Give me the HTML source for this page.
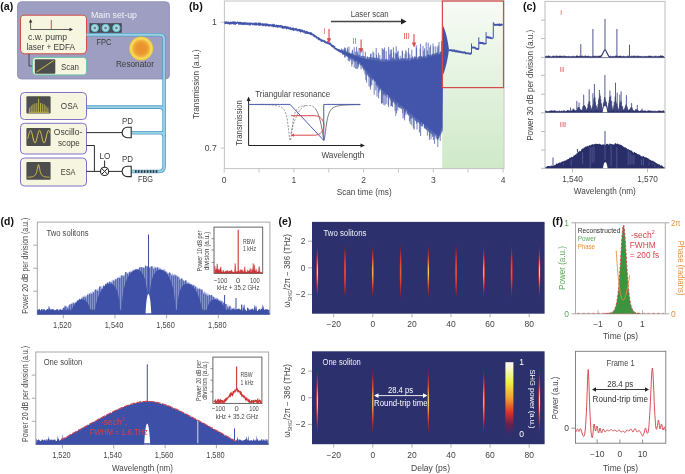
<!DOCTYPE html><html><head><meta charset="utf-8"><style>html,body{margin:0;padding:0;background:#fff;width:685px;height:474px;overflow:hidden}svg{display:block;will-change:transform}</style></head><body><svg width="685" height="474" viewBox="0 0 685 474" font-family="Liberation Sans, sans-serif"><defs><radialGradient id="res"><stop offset="0" stop-color="#e8902c"/><stop offset="0.45" stop-color="#eb9830"/><stop offset="0.68" stop-color="#f0b43c"/><stop offset="0.82" stop-color="#f8dc60"/><stop offset="0.93" stop-color="#f2d048"/><stop offset="1" stop-color="#e8c040"/></radialGradient><linearGradient id="grn" x1="0" y1="0" x2="0" y2="1"><stop offset="0" stop-color="#f7fbf5"/><stop offset="1" stop-color="#cfe9c8"/></linearGradient><radialGradient id="sb" cx="0.5" cy="0.55" r="0.5"><stop offset="0" stop-color="#fbf0a0"/><stop offset="0.15" stop-color="#f0c858"/><stop offset="0.4" stop-color="#e05a34"/><stop offset="0.7" stop-color="#8a2444"/><stop offset="1" stop-color="#2c306c" stop-opacity="0"/></radialGradient><radialGradient id="sr" cx="0.5" cy="0.55" r="0.5"><stop offset="0" stop-color="#e8603e"/><stop offset="0.4" stop-color="#d43c34"/><stop offset="0.75" stop-color="#7a2446"/><stop offset="1" stop-color="#2c306c" stop-opacity="0"/></radialGradient><filter id="bl" x="-3" y="-0.2" width="7" height="1.4"><feGaussianBlur stdDeviation="0.5"/></filter><linearGradient id="cb" x1="0" y1="0" x2="0" y2="1"><stop offset="0" stop-color="#fffff4"/><stop offset="0.08" stop-color="#fafad0"/><stop offset="0.28" stop-color="#f0f040"/><stop offset="0.5" stop-color="#f0a030"/><stop offset="0.7" stop-color="#d83028"/><stop offset="0.86" stop-color="#6a2050"/><stop offset="1" stop-color="#2c306c"/></linearGradient></defs><text x="0.3" y="9.6" font-size="11" fill="#111" font-weight="bold" textLength="13" lengthAdjust="spacingAndGlyphs" >(a)</text>
<rect x="17.5" y="1.7" width="152" height="77.3" fill="#9d9ec1" stroke="#8a8bb3" stroke-width="0.8" rx="4" />
<rect x="20.5" y="15.2" width="66" height="38.6" fill="#f6f6e0" stroke="#d24a48" stroke-width="1" rx="4" />
<path d="M30.6,21 V29.5 H70.5" fill="none" stroke="#333" stroke-width="0.8" />
<path d="M28.9,22.5 L30.6,19 L32.3,22.5 Z" fill="#333" stroke="none" stroke-width="1" />
<path d="M69.5,27.8 L73,29.5 L69.5,31.2 Z" fill="#333" stroke="none" stroke-width="1" />
<line x1="51.3" y1="20" x2="51.3" y2="29.5" stroke="#d03838" stroke-width="0.9" />
<text x="28" y="40.2" font-size="9.5" fill="#3a3a3a" textLength="39" lengthAdjust="spacingAndGlyphs" >c.w. pump</text>
<text x="26.4" y="50" font-size="9.5" fill="#3a3a3a" textLength="48.6" lengthAdjust="spacingAndGlyphs" >laser + EDFA</text>
<path d="M29,53.8 V66 H32.7" fill="none" stroke="#333" stroke-width="0.8" />
<rect x="32.7" y="57.4" width="53.8" height="17.5" fill="#f6f6e0" stroke="#6cc4a6" stroke-width="1" rx="3" />
<rect x="34.8" y="59.2" width="20.5" height="14.5" fill="#4d4d4d" stroke="none" stroke-width="1" rx="1" />
<line x1="36.5" y1="72" x2="53.5" y2="60.6" stroke="#e2cc4a" stroke-width="0.9" />
<text x="61" y="69.8" font-size="9.8" fill="#3a3a3a" textLength="18" lengthAdjust="spacingAndGlyphs" >Scan</text>
<text x="91" y="18" font-size="9.5" fill="#f4f4f8" textLength="46" lengthAdjust="spacingAndGlyphs" >Main set-up</text>
<path d="M86.5,34.8 H159.6 Q164.1,34.8 164.1,39.3 V166.6 Q164.1,171.5 159.2,171.5 H131.5" fill="none" stroke="#5a9ec2" stroke-width="3.6" />
<path d="M86.5,107.1 H160.1 Q164.1,107.1 164.1,111.1" fill="none" stroke="#5a9ec2" stroke-width="3.6" />
<path d="M131.5,132.8 H160.1 Q164.1,132.8 164.1,136.8" fill="none" stroke="#5a9ec2" stroke-width="3.6" />
<path d="M86.5,34.8 H159.6 Q164.1,34.8 164.1,39.3 V166.6 Q164.1,171.5 159.2,171.5 H131.5" fill="none" stroke="#98d2e6" stroke-width="1.9" />
<path d="M86.5,107.1 H160.1 Q164.1,107.1 164.1,111.1" fill="none" stroke="#98d2e6" stroke-width="1.9" />
<path d="M131.5,132.8 H160.1 Q164.1,132.8 164.1,136.8" fill="none" stroke="#98d2e6" stroke-width="1.9" />
<rect x="89.5" y="23.2" width="10.6" height="9.6" fill="#444650" stroke="none" stroke-width="1" rx="0" />
<circle cx="94.8" cy="28" r="3.5" fill="#a8dce4" stroke="#6cc4d0" stroke-width="1.1"/>
<circle cx="94.8" cy="28" r="1.3" fill="#6a8088"/>
<rect x="100.3" y="23.2" width="10.6" height="9.6" fill="#444650" stroke="none" stroke-width="1" rx="0" />
<circle cx="105.6" cy="28" r="3.5" fill="#a8dce4" stroke="#6cc4d0" stroke-width="1.1"/>
<circle cx="105.6" cy="28" r="1.3" fill="#6a8088"/>
<rect x="111.1" y="23.2" width="10.6" height="9.6" fill="#444650" stroke="none" stroke-width="1" rx="0" />
<circle cx="116.4" cy="28" r="3.5" fill="#a8dce4" stroke="#6cc4d0" stroke-width="1.1"/>
<circle cx="116.4" cy="28" r="1.3" fill="#6a8088"/>
<text x="96.5" y="45" font-size="9.5" fill="#3a3a3a" textLength="15" lengthAdjust="spacingAndGlyphs" >FPC</text>
<circle cx="141.2" cy="48.5" r="12" fill="url(#res)"/>
<text x="115.9" y="66.5" font-size="9.5" fill="#3a3a3a" textLength="38" lengthAdjust="spacingAndGlyphs" >Resonator</text>
<rect x="20.5" y="92.5" width="66" height="27" fill="#f6f6e0" stroke="#8070c8" stroke-width="1" rx="4" />
<rect x="20.5" y="123.3" width="66" height="30.7" fill="#f6f6e0" stroke="#8070c8" stroke-width="1" rx="4" />
<rect x="20.5" y="158" width="66" height="28" fill="#f6f6e0" stroke="#8070c8" stroke-width="1" rx="4" />
<rect x="26.4" y="96.3" width="24.2" height="17.3" fill="#4d4d4d" stroke="none" stroke-width="1" rx="1" />
<rect x="26.4" y="128" width="24.2" height="18" fill="#4d4d4d" stroke="none" stroke-width="1" rx="1" />
<rect x="26.4" y="162" width="24.2" height="17.7" fill="#4d4d4d" stroke="none" stroke-width="1" rx="1" />
<path d="M28.5,112.3 H49M29.4,112.3V107.7M31.2,112.3V105.8M33.0,112.3V104.4M34.9,112.3V103.5M36.8,112.3V103.0M38.6,112.3V98.8M40.5,112.3V103.0M42.3,112.3V103.5M44.2,112.3V104.4M46.0,112.3V105.8M47.9,112.3V107.7" fill="none" stroke="#e2cc4a" stroke-width="0.75" />
<path d="M27.8,138.6 L28.1,137.5 L28.3,136.4 L28.6,135.3 L28.8,134.3 L29.1,133.3 L29.3,132.5 L29.6,131.7 L29.8,131.1 L30.1,130.7 L30.3,130.5 L30.6,130.4 L30.8,130.5 L31.1,130.9 L31.3,131.3 L31.6,132.0 L31.8,132.8 L32.0,133.7 L32.3,134.7 L32.5,135.8 L32.8,136.9 L33.0,137.9 L33.3,139.0 L33.5,140.0 L33.8,140.9 L34.0,141.6 L34.3,142.2 L34.5,142.7 L34.8,142.9 L35.0,143.0 L35.3,142.9 L35.5,142.6 L35.8,142.1 L36.0,141.5 L36.3,140.7 L36.5,139.8 L36.8,138.8 L37.0,137.7 L37.3,136.6 L37.5,135.6 L37.8,134.5 L38.0,133.5 L38.3,132.6 L38.5,131.9 L38.8,131.2 L39.0,130.8 L39.3,130.5 L39.5,130.4 L39.8,130.5 L40.0,130.8 L40.3,131.2 L40.5,131.9 L40.8,132.6 L41.0,133.5 L41.3,134.5 L41.5,135.6 L41.8,136.6 L42.0,137.7 L42.3,138.8 L42.5,139.8 L42.8,140.7 L43.0,141.5 L43.3,142.1 L43.5,142.6 L43.8,142.9 L44.0,143.0 L44.3,142.9 L44.5,142.7 L44.8,142.2 L45.0,141.6 L45.3,140.9 L45.5,140.0 L45.8,139.0 L46.0,137.9 L46.3,136.9 L46.5,135.8 L46.8,134.7 L47.0,133.7 L47.3,132.8 L47.5,132.0 L47.8,131.3 L48.0,130.9 L48.3,130.5 L48.5,130.4 L48.8,130.5 L49.0,130.7 L49.3,131.1 L49.5,131.7 L49.8,132.5 L50.0,133.3" fill="none" stroke="#e2cc4a" stroke-width="1.0" />
<path d="M27.5,177.2 L27.8,177.2 L28.0,177.2 L28.2,177.2 L28.5,177.2 L28.8,177.2 L29.0,177.1 L29.2,177.1 L29.5,177.1 L29.8,177.1 L30.0,177.1 L30.2,177.0 L30.5,177.0 L30.8,177.0 L31.0,176.9 L31.2,176.9 L31.5,176.9 L31.8,176.8 L32.0,176.8 L32.2,176.7 L32.5,176.6 L32.8,176.6 L33.0,176.5 L33.2,176.4 L33.5,176.3 L33.8,176.2 L34.0,176.0 L34.2,175.9 L34.5,175.7 L34.8,175.5 L35.0,175.3 L35.2,175.0 L35.5,174.6 L35.8,174.2 L36.0,173.7 L36.2,173.1 L36.5,172.4 L36.8,171.6 L37.0,170.6 L37.2,169.4 L37.5,168.2 L37.8,166.8 L38.0,165.7 L38.2,164.8 L38.5,164.5 L38.8,164.8 L39.0,165.7 L39.2,166.8 L39.5,168.2 L39.8,169.4 L40.0,170.6 L40.2,171.6 L40.5,172.4 L40.8,173.1 L41.0,173.7 L41.2,174.2 L41.5,174.6 L41.8,175.0 L42.0,175.3 L42.2,175.5 L42.5,175.7 L42.8,175.9 L43.0,176.0 L43.2,176.2 L43.5,176.3 L43.8,176.4 L44.0,176.5 L44.2,176.6 L44.5,176.6 L44.8,176.7 L45.0,176.8 L45.2,176.8 L45.5,176.9 L45.8,176.9 L46.0,176.9 L46.2,177.0 L46.5,177.0 L46.8,177.0 L47.0,177.1 L47.2,177.1 L47.5,177.1 L47.8,177.1 L48.0,177.1 L48.2,177.2 L48.5,177.2 L48.8,177.2 L49.0,177.2 L49.2,177.2 L49.5,177.2" fill="none" stroke="#e2cc4a" stroke-width="0.9" />
<text x="60.8" y="109.4" font-size="9.8" fill="#3a3a3a" textLength="17.2" lengthAdjust="spacingAndGlyphs" >OSA</text>
<text x="53.8" y="135.4" font-size="9.8" fill="#3a3a3a" textLength="28.5" lengthAdjust="spacingAndGlyphs" >Oscillo-</text>
<text x="58" y="146" font-size="9.8" fill="#3a3a3a" textLength="21.7" lengthAdjust="spacingAndGlyphs" >scope</text>
<text x="60.8" y="175.4" font-size="9.8" fill="#3a3a3a" textLength="14.7" lengthAdjust="spacingAndGlyphs" >ESA</text>
<path d="M86.5,132.6 H123 M86.5,145.5 H94.4 V171.4 M86.5,171.4 H100.5 M108.7,171.4 H123 M104.6,160.5 V167.3" fill="none" stroke="#2a2a2a" stroke-width="1" />
<circle cx="104.6" cy="171.4" r="4.1" fill="#fff" stroke="#2a2a2a" stroke-width="1.1"/>
<path d="M101.7,168.5 L107.5,174.3 M107.5,168.5 L101.7,174.3" fill="none" stroke="#2a2a2a" stroke-width="1" />
<path d="M131.2,127.3 H127.3 A5.2,5.2 0 0 0 127.3,137.7 H131.2 Z" fill="#fff" stroke="#2a2a2a" stroke-width="1.1" />
<path d="M131.2,166.2 H127.3 A5.2,5.2 0 0 0 127.3,176.6 H131.2 Z" fill="#fff" stroke="#2a2a2a" stroke-width="1.1" />
<text x="122" y="124.2" font-size="9.5" fill="#3a3a3a" textLength="11" lengthAdjust="spacingAndGlyphs" >PD</text>
<text x="122" y="161.7" font-size="9.5" fill="#3a3a3a" textLength="11" lengthAdjust="spacingAndGlyphs" >PD</text>
<text x="99.5" y="158.6" font-size="9.5" fill="#3a3a3a" textLength="11" lengthAdjust="spacingAndGlyphs" >LO</text>
<rect x="135" y="170.2" width="1.6" height="2.6" fill="#333" stroke="none" stroke-width="1" rx="0" />
<rect x="137.9" y="170.2" width="1.6" height="2.6" fill="#333" stroke="none" stroke-width="1" rx="0" />
<rect x="140.9" y="170.2" width="1.6" height="2.6" fill="#333" stroke="none" stroke-width="1" rx="0" />
<rect x="143.8" y="170.2" width="1.6" height="2.6" fill="#333" stroke="none" stroke-width="1" rx="0" />
<rect x="146.8" y="170.2" width="1.6" height="2.6" fill="#333" stroke="none" stroke-width="1" rx="0" />
<rect x="149.8" y="170.2" width="1.6" height="2.6" fill="#333" stroke="none" stroke-width="1" rx="0" />
<rect x="152.7" y="170.2" width="1.6" height="2.6" fill="#333" stroke="none" stroke-width="1" rx="0" />
<rect x="155.7" y="170.2" width="1.6" height="2.6" fill="#333" stroke="none" stroke-width="1" rx="0" />
<text x="138" y="181.8" font-size="9.5" fill="#3a3a3a" textLength="15" lengthAdjust="spacingAndGlyphs" >FBG</text>
<text x="189" y="9.7" font-size="11" fill="#111" font-weight="bold" textLength="13.8" lengthAdjust="spacingAndGlyphs" >(b)</text>
<rect x="442.2" y="1" width="61.6" height="167.6" fill="url(#grn)" stroke="none" stroke-width="1" rx="0" />
<rect x="224.4" y="1" width="279.6" height="167.6" fill="none" stroke="#c4c4c4" stroke-width="1" rx="0" />
<line x1="220.6" y1="22.2" x2="224.4" y2="22.2" stroke="#c4c4c4" stroke-width="1" />
<line x1="220.6" y1="148.1" x2="224.4" y2="148.1" stroke="#c4c4c4" stroke-width="1" />
<text x="216.8" y="25.2" font-size="8.5" fill="#444" text-anchor="end" >1</text>
<text x="216.8" y="151.1" font-size="8.5" fill="#444" text-anchor="end" textLength="12" lengthAdjust="spacingAndGlyphs" >0.7</text>
<line x1="224.2" y1="168.6" x2="224.2" y2="172.6" stroke="#c4c4c4" stroke-width="1" />
<line x1="259.1" y1="168.6" x2="259.1" y2="172.6" stroke="#c4c4c4" stroke-width="1" />
<line x1="293.9" y1="168.6" x2="293.9" y2="172.6" stroke="#c4c4c4" stroke-width="1" />
<line x1="328.8" y1="168.6" x2="328.8" y2="172.6" stroke="#c4c4c4" stroke-width="1" />
<line x1="363.6" y1="168.6" x2="363.6" y2="172.6" stroke="#c4c4c4" stroke-width="1" />
<line x1="398.4" y1="168.6" x2="398.4" y2="172.6" stroke="#c4c4c4" stroke-width="1" />
<line x1="433.3" y1="168.6" x2="433.3" y2="172.6" stroke="#c4c4c4" stroke-width="1" />
<line x1="468.1" y1="168.6" x2="468.1" y2="172.6" stroke="#c4c4c4" stroke-width="1" />
<line x1="503" y1="168.6" x2="503" y2="172.6" stroke="#c4c4c4" stroke-width="1" />
<text x="224.2" y="182.5" font-size="8.5" fill="#444" text-anchor="middle" >0</text>
<text x="293.9" y="182.5" font-size="8.5" fill="#444" text-anchor="middle" >1</text>
<text x="363.6" y="182.5" font-size="8.5" fill="#444" text-anchor="middle" >2</text>
<text x="433.3" y="182.5" font-size="8.5" fill="#444" text-anchor="middle" >3</text>
<text x="503" y="182.5" font-size="8.5" fill="#444" text-anchor="middle" >4</text>
<text x="364.2" y="195" font-size="8.5" fill="#444" text-anchor="middle" textLength="55" lengthAdjust="spacingAndGlyphs" >Scan time (ms)</text>
<text x="199.2" y="84.3" font-size="8.5" fill="#444" text-anchor="middle" textLength="69.5" lengthAdjust="spacingAndGlyphs" transform="rotate(-90 199.2 84.3)" >Transmission (a.u.)</text>
<path d="M224.4,21.5 L224.9,21.6 L225.4,21.4 L225.9,21.2 L226.4,21.4 L226.9,21.2 L227.4,21.6 L227.9,22.2 L228.4,21.5 L228.9,21.4 L229.4,21.9 L229.9,21.9 L230.4,21.8 L230.9,21.4 L231.4,21.8 L231.9,22.1 L232.4,21.3 L232.9,21.7 L233.4,21.1 L233.9,21.4 L234.4,21.2 L234.9,21.8 L235.4,21.4 L235.9,22.1 L236.4,22.0 L236.9,21.9 L237.4,21.0 L237.9,21.8 L238.4,22.0 L238.9,22.1 L239.4,21.5 L239.9,21.9 L240.4,21.7 L240.9,21.8 L241.4,22.6 L241.9,21.9 L242.4,22.2 L242.9,22.6 L243.4,22.0 L243.9,22.2 L244.4,22.3 L244.9,22.3 L245.4,21.8 L245.9,22.4 L246.4,22.9 L246.9,21.8 L247.4,22.7 L247.9,22.5 L248.4,22.2 L248.9,23.3 L249.4,22.8 L249.9,22.0 L250.4,22.6 L250.9,22.8 L251.4,22.5 L251.9,22.9 L252.4,22.6 L252.9,22.9 L253.4,23.2 L253.9,22.4 L254.4,22.8 L254.9,22.5 L255.4,22.8 L255.9,22.3 L256.4,22.5 L256.9,22.7 L257.4,23.2 L257.9,23.3 L258.4,22.3 L258.9,22.5 L259.4,23.1 L259.9,22.1 L260.4,22.8 L260.9,23.0 L261.4,23.6 L261.9,23.4 L262.4,23.0 L262.9,23.1 L263.4,23.2 L263.9,23.9 L264.4,23.2 L264.9,23.3 L265.4,23.6 L265.9,23.5 L266.4,23.5 L266.9,23.2 L267.4,23.7 L267.9,23.6 L268.4,24.3 L268.9,24.1 L269.4,23.9 L269.9,24.3 L270.4,23.9 L270.9,24.5 L271.4,24.2 L271.9,24.4 L272.4,23.7 L272.9,24.5 L273.4,23.7 L273.9,23.6 L274.4,24.4 L274.9,24.2 L275.4,24.7 L275.9,25.5 L276.4,24.4 L276.9,24.5 L277.4,24.9 L277.9,25.1 L278.4,24.9 L278.9,24.9 L279.4,25.3 L279.9,25.3 L280.4,24.8 L280.9,25.3 L281.4,25.4 L281.9,25.1 L282.4,25.7 L282.9,25.4 L283.4,26.2 L283.9,26.0 L284.4,26.0 L284.9,25.9 L285.4,26.2 L285.9,25.5 L286.4,26.0 L286.9,26.7 L287.4,25.8 L287.9,27.1 L288.4,26.1 L288.9,27.2 L289.4,26.7 L289.9,27.4 L290.4,27.3 L290.9,26.7 L291.4,27.9 L291.9,28.1 L292.4,27.6 L292.9,27.6 L293.4,27.8 L293.9,27.6 L294.4,28.5 L294.9,27.9 L295.4,28.2 L295.9,28.0 L296.4,28.2 L296.9,28.1 L297.4,29.2 L297.9,28.7 L298.4,29.3 L298.9,29.0 L299.4,28.8 L299.9,29.0 L300.4,29.1 L300.9,29.5 L301.4,29.5 L301.9,29.7 L302.4,29.4 L302.9,29.8 L303.4,30.9 L303.9,30.1 L304.4,30.1 L304.9,30.8 L305.4,31.4 L305.9,30.4 L306.4,31.0 L306.9,31.0 L307.4,30.7 L307.9,31.9 L308.4,31.7 L308.9,31.9 L309.4,31.7 L309.9,32.4 L310.4,32.1 L310.9,32.4 L311.4,32.2 L311.9,32.4 L312.4,33.8 L312.9,33.3 L313.4,34.0 L313.9,34.2 L314.4,34.4 L314.9,34.7 L315.4,35.4 L315.9,35.4 L316.4,35.8 L316.9,36.2 L317.4,37.0 L317.9,37.1 L318.4,37.3 L318.9,37.3 L319.4,37.3 L319.9,38.5 L320.4,38.8 L320.9,38.5 L321.4,39.0 L321.9,39.4 L322.4,39.6 L322.9,39.9 L323.4,39.5 L323.9,40.5 L324.4,39.7 L324.9,40.7 L325.4,40.8 L325.9,41.2 L326.4,41.8 L326.9,41.9 L327.4,41.0 L327.9,41.0 L328.4,42.3 L328.9,41.7 L329.4,42.5 L329.9,43.2 L330.4,42.6 L330.9,42.8 L331.4,44.1 L331.9,44.4 L332.4,44.7 L332.9,45.1 L333.4,45.2 L333.9,45.3 L334.4,46.2 L334.9,46.2 L335.4,46.0 L335.4,49.0 L334.9,49.8 L334.4,48.6 L333.9,48.8 L333.4,47.7 L332.9,47.5 L332.4,47.4 L331.9,46.4 L331.4,47.0 L330.9,46.2 L330.4,45.3 L329.9,45.1 L329.4,45.0 L328.9,44.4 L328.4,44.3 L327.9,44.3 L327.4,43.9 L326.9,43.7 L326.4,43.2 L325.9,43.6 L325.4,43.6 L324.9,42.5 L324.4,43.1 L323.9,42.4 L323.4,41.6 L322.9,42.2 L322.4,41.6 L321.9,42.3 L321.4,41.4 L320.9,42.2 L320.4,40.5 L319.9,40.6 L319.4,40.3 L318.9,40.6 L318.4,40.0 L317.9,40.0 L317.4,38.3 L316.9,39.0 L316.4,38.8 L315.9,37.7 L315.4,37.3 L314.9,37.5 L314.4,37.5 L313.9,36.7 L313.4,36.6 L312.9,36.2 L312.4,35.5 L311.9,34.8 L311.4,35.6 L310.9,35.2 L310.4,34.9 L309.9,35.1 L309.4,34.1 L308.9,34.0 L308.4,34.2 L307.9,34.0 L307.4,34.0 L306.9,34.1 L306.4,33.5 L305.9,34.0 L305.4,33.9 L304.9,33.7 L304.4,32.7 L303.9,33.0 L303.4,32.4 L302.9,32.6 L302.4,32.5 L301.9,31.9 L301.4,31.9 L300.9,32.2 L300.4,32.8 L299.9,32.0 L299.4,31.4 L298.9,31.4 L298.4,30.8 L297.9,31.3 L297.4,31.5 L296.9,31.5 L296.4,30.5 L295.9,30.2 L295.4,31.0 L294.9,30.1 L294.4,30.7 L293.9,30.8 L293.4,31.2 L292.9,30.5 L292.4,30.2 L291.9,30.2 L291.4,30.0 L290.9,29.8 L290.4,30.0 L289.9,29.8 L289.4,29.5 L288.9,29.6 L288.4,29.2 L287.9,29.0 L287.4,28.8 L286.9,29.5 L286.4,29.6 L285.9,28.9 L285.4,28.3 L284.9,28.5 L284.4,28.5 L283.9,29.3 L283.4,28.6 L282.9,28.4 L282.4,28.8 L281.9,28.5 L281.4,27.6 L280.9,28.4 L280.4,27.3 L279.9,27.2 L279.4,27.8 L278.9,27.2 L278.4,27.4 L277.9,27.4 L277.4,28.2 L276.9,27.5 L276.4,26.9 L275.9,27.2 L275.4,27.3 L274.9,26.9 L274.4,27.0 L273.9,27.6 L273.4,27.2 L272.9,26.6 L272.4,27.2 L271.9,26.5 L271.4,26.7 L270.9,26.1 L270.4,26.7 L269.9,26.5 L269.4,26.4 L268.9,26.3 L268.4,26.8 L267.9,26.3 L267.4,25.9 L266.9,26.1 L266.4,26.2 L265.9,26.4 L265.4,26.7 L264.9,25.8 L264.4,25.8 L263.9,25.9 L263.4,26.1 L262.9,26.4 L262.4,25.8 L261.9,25.6 L261.4,25.6 L260.9,25.7 L260.4,25.6 L259.9,25.8 L259.4,25.8 L258.9,25.8 L258.4,26.1 L257.9,24.7 L257.4,25.2 L256.9,25.2 L256.4,26.0 L255.9,25.3 L255.4,25.5 L254.9,25.8 L254.4,25.2 L253.9,25.2 L253.4,24.8 L252.9,25.3 L252.4,25.2 L251.9,25.3 L251.4,24.1 L250.9,25.3 L250.4,25.4 L249.9,24.9 L249.4,25.7 L248.9,25.8 L248.4,24.5 L247.9,25.0 L247.4,24.9 L246.9,24.5 L246.4,25.4 L245.9,24.7 L245.4,25.1 L244.9,24.5 L244.4,25.0 L243.9,25.1 L243.4,25.2 L242.9,24.8 L242.4,24.8 L241.9,24.8 L241.4,24.8 L240.9,25.2 L240.4,24.4 L239.9,24.2 L239.4,24.7 L238.9,25.2 L238.4,24.4 L237.9,23.3 L237.4,23.8 L236.9,24.3 L236.4,23.7 L235.9,24.5 L235.4,25.0 L234.9,24.4 L234.4,24.5 L233.9,24.4 L233.4,24.8 L232.9,24.3 L232.4,23.8 L231.9,24.4 L231.4,24.3 L230.9,24.7 L230.4,23.8 L229.9,25.1 L229.4,24.4 L228.9,24.4 L228.4,23.9 L227.9,24.3 L227.4,23.9 L226.9,23.8 L226.4,23.9 L225.9,23.8 L225.4,24.3 L224.9,24.1 L224.4,24.3Z" fill="#4355aa" stroke="none" stroke-width="1" />
<path d="M335.0,48.0V49.0M335.4,48.1V49.2M335.8,48.1V49.4M336.2,48.2V50.0M336.6,48.5V50.0M337.0,48.7V51.0M337.4,48.8V50.4M337.8,48.9V50.9M338.2,49.1V50.7M338.6,49.1V51.7M339.0,49.2V51.7M339.4,49.6V52.2M339.8,49.6V52.2M340.2,50.8V52.3M340.6,50.0V52.7M341.0,50.5V52.6M341.4,48.5V52.1M341.8,50.1V53.1M342.2,49.2V53.7M342.6,50.4V54.6M343.0,50.6V54.4M343.4,51.9V54.6M343.8,49.4V54.6M344.2,49.2V54.4M344.6,47.4V57.0M345.0,51.1V58.0M345.4,48.0V53.7M345.8,50.1V56.2M346.2,51.5V55.5M346.6,51.7V56.0M347.0,52.3V56.8M347.4,47.4V56.7M347.8,49.4V56.9M348.2,52.8V60.7M348.6,52.4V58.0M349.0,46.6V60.9M349.4,52.7V58.7M349.8,53.1V61.5M350.2,53.8V59.4M350.6,55.6V57.9M351.0,52.9V59.5M351.4,54.0V59.3M351.8,53.2V66.5M352.2,51.2V64.1M352.6,49.7V58.8M353.0,53.7V60.4M353.4,54.2V56.7M353.8,55.3V61.5M354.2,47.2V67.7M354.6,55.6V61.4M355.0,54.7V61.5M355.4,51.7V62.5M355.8,55.7V68.5M356.2,55.1V68.7M356.6,46.7V60.9M357.0,56.1V59.2M357.4,51.5V69.1M357.8,53.5V64.4M358.2,56.5V64.1M358.6,55.2V67.4M359.0,48.1V65.0M359.4,54.9V63.6M359.8,59.1V63.4M360.2,48.0V60.9M360.6,56.4V65.5M361.0,58.1V69.4M361.4,56.4V65.2M361.8,55.8V65.9M362.2,55.9V68.2M362.6,58.1V66.0M363.0,49.8V67.9M363.4,55.9V69.2M363.8,58.5V70.8M364.2,56.0V65.0M364.6,57.9V70.1M365.0,56.4V74.5M365.4,51.9V72.5M365.8,59.2V80.2M366.2,60.3V71.4M366.6,58.7V82.6M367.0,57.1V74.2M367.4,56.4V74.3M367.8,56.8V75.7M368.2,57.2V74.9M368.6,59.2V76.6M369.0,65.1V86.3M369.4,57.3V77.3M369.8,57.3V77.7M370.2,57.3V87.4M370.6,53.8V89.7M371.0,53.7V85.5M371.4,57.4V78.3M371.8,57.7V85.0M372.2,59.8V80.1M372.6,57.7V79.5M373.0,51.3V80.7M373.4,57.4V76.0M373.8,52.8V77.1M374.2,57.8V94.7M374.6,57.9V81.3M375.0,57.9V80.7M375.4,59.8V81.1M375.8,57.8V90.3M376.2,47.9V85.2M376.6,54.8V85.6M377.0,59.6V96.6M377.4,58.0V87.6M377.8,57.7V82.9M378.2,58.9V86.2M378.6,52.9V98.4M379.0,61.0V92.6M379.4,58.7V90.4M379.8,55.3V89.2M380.2,59.2V89.6M380.6,60.3V86.3M381.0,60.7V90.4M381.4,58.7V103.2M381.8,62.1V103.9M382.2,48.1V89.3M382.6,59.4V103.1M383.0,49.0V94.0M383.4,60.4V95.2M383.8,49.8V104.8M384.2,60.4V93.4M384.6,47.5V95.1M385.0,60.5V105.5M385.4,59.6V92.4M385.8,59.1V96.0M386.2,51.0V103.9M386.6,58.8V94.8M387.0,63.3V97.5M387.4,60.2V92.7M387.8,59.6V95.0M388.2,59.3V105.1M388.6,47.1V107.2M389.0,60.9V94.7M389.4,60.5V98.0M389.8,54.5V97.7M390.2,49.7V99.7M390.6,58.6V100.1M391.0,52.8V106.3M391.4,49.4V105.8M391.8,59.6V105.8M392.2,59.0V101.9M392.6,57.4V107.0M393.0,58.7V102.3M393.4,47.3V102.2M393.8,52.0V101.9M394.2,58.7V98.4M394.6,58.6V103.4M395.0,59.9V110.8M395.4,53.4V104.6M395.8,60.3V115.8M396.2,46.2V103.8M396.6,53.9V113.0M397.0,54.1V105.6M397.4,52.0V99.7M397.8,58.5V110.4M398.2,50.7V107.2M398.6,57.0V107.0M399.0,59.0V106.5M399.4,59.1V107.4M399.8,59.7V108.2M400.2,55.8V107.3M400.6,59.5V108.3M401.0,58.4V105.9M401.4,58.4V108.7M401.8,58.2V109.1M402.2,50.5V100.3M402.6,51.3V113.0M403.0,59.5V118.4M403.4,58.5V107.9M403.8,58.2V109.3M404.2,59.1V117.5M404.6,58.4V120.4M405.0,54.0V111.7M405.4,58.8V112.7M405.8,50.1V115.0M406.2,51.7V110.9M406.6,60.3V104.8M407.0,58.6V112.4M407.4,58.4V114.1M407.8,58.8V113.5M408.2,52.6V115.1M408.6,48.0V115.5M409.0,58.1V113.9M409.4,62.4V121.5M409.8,54.2V115.7M410.2,57.6V124.0M410.6,61.5V119.2M411.0,58.5V112.6M411.4,57.8V117.8M411.8,49.6V125.5M412.2,58.4V118.3M412.6,56.3V115.8M413.0,58.0V117.7M413.4,59.1V128.5M413.8,58.2V118.5M414.2,56.9V129.7M414.6,57.2V118.2M415.0,55.9V120.0M415.4,57.5V121.0M415.8,57.1V119.7M416.2,45.2V121.5M416.6,47.6V123.7M417.0,56.9V129.5M417.4,60.4V122.0M417.8,60.6V122.3M418.2,57.4V118.8M418.6,56.7V122.6M419.0,56.8V122.8M419.4,56.3V132.4M419.8,56.4V124.1M420.2,48.6V124.3M420.6,43.9V136.0M421.0,57.4V125.6M421.4,56.0V121.6M421.8,56.5V126.4M422.2,58.1V126.3M422.6,57.0V125.9M423.0,45.9V121.1M423.4,56.1V123.9M423.8,50.8V119.3M424.2,56.8V127.6M424.6,48.3V128.4M425.0,56.1V128.2M425.4,58.3V128.8M425.8,55.8V127.7M426.2,42.3V129.6M426.6,58.2V130.2M427.0,55.4V130.0M427.4,50.5V135.5M427.8,54.9V125.7M428.2,42.7V129.3M428.6,54.3V131.7M429.0,55.1V131.8M429.4,55.3V139.9M429.8,47.3V136.5M430.2,55.2V133.1M430.6,45.2V132.6M431.0,55.2V139.3M431.4,58.4V134.1M431.8,54.5V128.2M432.2,54.0V134.2M432.6,54.2V136.9M433.0,43.5V135.3M433.4,53.7V140.0M433.8,46.4V130.8M434.2,53.7V136.4M434.6,54.5V143.8M435.0,53.9V130.9M435.4,53.3V134.3M435.8,46.3V136.3M436.2,52.8V138.4M436.6,53.4V134.9M437.0,52.7V138.9M437.4,52.1V140.1M437.8,47.2V147.0M438.2,45.4V139.3M438.6,54.9V137.8M439.0,42.0V137.9M439.4,54.0V135.9M439.8,52.9V136.2M440.2,51.6V141.0M440.6,51.8V134.6M441.0,51.8V133.8M441.4,41.1V126.5M441.8,51.9V132.3M442.2,45.6V131.2" fill="none" stroke="#4355aa" stroke-width="0.75" />
<path d="M335.0,48.0 L335.4,48.2 L335.8,48.3 L336.2,48.5 L336.6,48.6 L337.0,48.8 L337.4,49.0 L337.8,49.1 L338.2,49.3 L338.6,49.4 L339.0,49.6 L339.4,49.8 L339.8,49.9 L340.2,50.1 L340.6,50.2 L341.0,50.4 L341.4,50.6 L341.8,50.7 L342.2,50.9 L342.6,51.0 L343.0,51.2 L343.4,51.4 L343.8,51.5 L344.2,51.7 L344.6,51.8 L345.0,52.0 L345.4,52.2 L345.8,52.3 L346.2,52.5 L346.6,52.6 L347.0,52.8 L347.4,53.0 L347.8,53.1 L348.2,53.3 L348.6,53.4 L349.0,53.6 L349.4,53.8 L349.8,53.9 L350.2,54.1 L350.6,54.2 L351.0,54.3 L351.4,54.5 L351.8,54.6 L352.2,54.8 L352.6,54.9 L353.0,55.0 L353.4,55.2 L353.8,55.3 L354.2,55.5 L354.6,55.6 L355.0,55.7 L355.4,55.9 L355.8,56.0 L356.2,56.2 L356.6,56.3 L357.0,56.4 L357.4,56.6 L357.8,56.7 L358.2,56.9 L358.6,57.0 L359.0,57.1 L359.4,57.3 L359.8,57.4 L360.2,57.6 L360.6,57.7 L361.0,57.8 L361.4,57.9 L361.8,58.0 L362.2,58.1 L362.6,58.2 L363.0,58.3 L363.4,58.4 L363.8,58.5 L364.2,58.7 L364.6,58.8 L365.0,58.9 L365.4,58.9 L365.8,59.0 L366.2,59.1 L366.6,59.1 L367.0,59.2 L367.4,59.3 L367.8,59.4 L368.2,59.4 L368.6,59.5 L369.0,59.6 L369.4,59.6 L369.8,59.7 L370.2,59.8 L370.6,59.8 L371.0,59.9 L371.4,60.0 L371.8,60.1 L372.2,60.1 L372.6,60.2 L373.0,60.3 L373.4,60.3 L373.8,60.4 L374.2,60.5 L374.6,60.5 L375.0,60.6 L375.4,60.7 L375.8,60.7 L376.2,60.8 L376.6,60.9 L377.0,61.0 L377.4,61.0 L377.8,61.1 L378.2,61.2 L378.6,61.2 L379.0,61.3 L379.4,61.4 L379.8,61.4 L380.2,61.5 L380.6,61.6 L381.0,61.7 L381.4,61.7 L381.8,61.8 L382.2,61.9 L382.6,61.9 L383.0,62.0 L383.4,62.0 L383.8,62.0 L384.2,61.9 L384.6,61.9 L385.0,61.9 L385.4,61.9 L385.8,61.8 L386.2,61.8 L386.6,61.8 L387.0,61.8 L387.4,61.8 L387.8,61.7 L388.2,61.7 L388.6,61.7 L389.0,61.7 L389.4,61.6 L389.8,61.6 L390.2,61.6 L390.6,61.6 L391.0,61.6 L391.4,61.5 L391.8,61.5 L392.2,61.5 L392.6,61.5 L393.0,61.4 L393.4,61.4 L393.8,61.4 L394.2,61.4 L394.6,61.4 L395.0,61.3 L395.4,61.3 L395.8,61.3 L396.2,61.3 L396.6,61.2 L397.0,61.2 L397.4,61.2 L397.8,61.2 L398.2,61.2 L398.6,61.1 L399.0,61.1 L399.4,61.1 L399.8,61.1 L400.2,61.0 L400.6,61.0 L401.0,61.0 L401.4,61.0 L401.8,61.0 L402.2,60.9 L402.6,60.9 L403.0,60.9 L403.4,60.9 L403.8,60.8 L404.2,60.8 L404.6,60.8 L405.0,60.8 L405.4,60.8 L405.8,60.7 L406.2,60.7 L406.6,60.7 L407.0,60.7 L407.4,60.6 L407.8,60.6 L408.2,60.6 L408.6,60.6 L409.0,60.6 L409.4,60.5 L409.8,60.5 L410.2,60.5 L410.6,60.4 L411.0,60.3 L411.4,60.3 L411.8,60.2 L412.2,60.1 L412.6,60.1 L413.0,60.0 L413.4,59.9 L413.8,59.9 L414.2,59.8 L414.6,59.7 L415.0,59.7 L415.4,59.6 L415.8,59.5 L416.2,59.5 L416.6,59.4 L417.0,59.3 L417.4,59.3 L417.8,59.2 L418.2,59.1 L418.6,59.1 L419.0,59.0 L419.4,58.9 L419.8,58.9 L420.2,58.8 L420.6,58.7 L421.0,58.7 L421.4,58.6 L421.8,58.5 L422.2,58.5 L422.6,58.4 L423.0,58.3 L423.4,58.3 L423.8,58.2 L424.2,58.1 L424.6,58.1 L425.0,58.0 L425.4,57.9 L425.8,57.8 L426.2,57.7 L426.6,57.6 L427.0,57.5 L427.4,57.4 L427.8,57.3 L428.2,57.2 L428.6,57.1 L429.0,57.0 L429.4,56.9 L429.8,56.8 L430.2,56.7 L430.6,56.6 L431.0,56.5 L431.4,56.4 L431.8,56.3 L432.2,56.2 L432.6,56.1 L433.0,56.0 L433.4,55.9 L433.8,55.8 L434.2,55.7 L434.6,55.6 L435.0,55.5 L435.4,55.4 L435.8,55.3 L436.2,55.2 L436.6,55.1 L437.0,55.0 L437.4,54.9 L437.8,54.8 L438.2,54.7 L438.6,54.6 L439.0,54.5 L439.4,54.4 L439.8,54.4 L440.2,54.3 L440.6,54.2 L441.0,54.2 L441.4,54.1 L441.8,54.0 L442.2,54.0 L442.2,128.0 L441.8,128.4 L441.4,129.2 L441.0,130.0 L440.6,130.8 L440.2,131.6 L439.8,132.4 L439.4,133.2 L439.0,134.0 L438.6,134.8 L438.2,135.6 L437.8,135.8 L437.4,135.5 L437.0,135.2 L436.6,134.8 L436.2,134.5 L435.8,134.2 L435.4,133.8 L435.0,133.5 L434.6,133.2 L434.2,132.8 L433.8,132.5 L433.4,132.2 L433.0,131.8 L432.6,131.5 L432.2,131.2 L431.8,130.8 L431.4,130.5 L431.0,130.2 L430.6,129.8 L430.2,129.5 L429.8,129.2 L429.4,128.8 L429.0,128.5 L428.6,128.2 L428.2,127.8 L427.8,127.5 L427.4,127.2 L427.0,126.8 L426.6,126.5 L426.2,126.2 L425.8,125.8 L425.4,125.5 L425.0,125.2 L424.6,124.8 L424.2,124.5 L423.8,124.2 L423.4,123.8 L423.0,123.5 L422.6,123.2 L422.2,122.8 L421.8,122.5 L421.4,122.2 L421.0,121.8 L420.6,121.5 L420.2,121.2 L419.8,120.8 L419.4,120.5 L419.0,120.2 L418.6,119.8 L418.2,119.5 L417.8,119.2 L417.4,118.8 L417.0,118.5 L416.6,118.2 L416.2,117.8 L415.8,117.5 L415.4,117.2 L415.0,116.8 L414.6,116.5 L414.2,116.2 L413.8,115.8 L413.4,115.5 L413.0,115.2 L412.6,114.8 L412.2,114.5 L411.8,114.2 L411.4,113.8 L411.0,113.5 L410.6,113.2 L410.2,112.8 L409.8,112.5 L409.4,112.2 L409.0,111.8 L408.6,111.5 L408.2,111.2 L407.8,110.8 L407.4,110.5 L407.0,110.2 L406.6,109.9 L406.2,109.6 L405.8,109.2 L405.4,108.9 L405.0,108.6 L404.6,108.3 L404.2,108.0 L403.8,107.6 L403.4,107.3 L403.0,107.0 L402.6,106.7 L402.2,106.4 L401.8,106.0 L401.4,105.7 L401.0,105.4 L400.6,105.1 L400.2,104.8 L399.8,104.4 L399.4,104.1 L399.0,103.8 L398.6,103.5 L398.2,103.2 L397.8,102.8 L397.4,102.5 L397.0,102.2 L396.6,101.9 L396.2,101.6 L395.8,101.2 L395.4,100.9 L395.0,100.6 L394.6,100.3 L394.2,100.0 L393.8,99.6 L393.4,99.3 L393.0,99.0 L392.6,98.7 L392.2,98.4 L391.8,98.0 L391.4,97.7 L391.0,97.4 L390.6,97.1 L390.2,96.8 L389.8,96.4 L389.4,96.1 L389.0,95.8 L388.6,95.5 L388.2,95.2 L387.8,94.8 L387.4,94.5 L387.0,94.2 L386.6,93.9 L386.2,93.6 L385.8,93.2 L385.4,92.9 L385.0,92.6 L384.6,92.3 L384.2,92.0 L383.8,91.6 L383.4,91.3 L383.0,91.0 L382.6,90.5 L382.2,90.0 L381.8,89.5 L381.4,89.0 L381.0,88.5 L380.6,88.0 L380.2,87.5 L379.8,87.0 L379.4,86.5 L379.0,86.0 L378.6,85.5 L378.2,84.9 L377.8,84.4 L377.4,83.9 L377.0,83.4 L376.6,82.9 L376.2,82.4 L375.8,81.9 L375.4,81.4 L375.0,80.9 L374.6,80.4 L374.2,79.9 L373.8,79.4 L373.4,78.9 L373.0,78.4 L372.6,77.9 L372.2,77.4 L371.8,76.9 L371.4,76.4 L371.0,75.9 L370.6,75.4 L370.2,74.9 L369.8,74.4 L369.4,73.9 L369.0,73.3 L368.6,72.8 L368.2,72.3 L367.8,71.8 L367.4,71.3 L367.0,70.8 L366.6,70.3 L366.2,69.8 L365.8,69.3 L365.4,68.8 L365.0,68.3 L364.6,67.9 L364.2,67.4 L363.8,67.0 L363.4,66.5 L363.0,66.0 L362.6,65.6 L362.2,65.1 L361.8,64.7 L361.4,64.2 L361.0,63.8 L360.6,63.3 L360.2,62.9 L359.8,62.6 L359.4,62.3 L359.0,62.1 L358.6,61.9 L358.2,61.7 L357.8,61.5 L357.4,61.2 L357.0,61.0 L356.6,60.8 L356.2,60.6 L355.8,60.4 L355.4,60.2 L355.0,59.9 L354.6,59.7 L354.2,59.5 L353.8,59.3 L353.4,59.1 L353.0,58.8 L352.6,58.6 L352.2,58.4 L351.8,58.2 L351.4,58.0 L351.0,57.7 L350.6,57.5 L350.2,57.3 L349.8,57.1 L349.4,56.9 L349.0,56.7 L348.6,56.4 L348.2,56.2 L347.8,56.0 L347.4,55.8 L347.0,55.6 L346.6,55.3 L346.2,55.1 L345.8,54.9 L345.4,54.7 L345.0,54.5 L344.6,54.2 L344.2,54.0 L343.8,53.8 L343.4,53.6 L343.0,53.4 L342.6,53.2 L342.2,52.9 L341.8,52.7 L341.4,52.5 L341.0,52.3 L340.6,52.1 L340.2,51.8 L339.8,51.6 L339.4,51.4 L339.0,51.2 L338.6,51.0 L338.2,50.7 L337.8,50.5 L337.4,50.3 L337.0,50.1 L336.6,49.9 L336.2,49.7 L335.8,49.4 L335.4,49.2 L335.0,49.0Z" fill="#4355aa" stroke="none" stroke-width="1" />
<path d="M441.6,132 L441.6,75 L442,24 C446,30 448,42 449,49.5 C448,57 446,68 443,75 Z" fill="#4355aa" stroke="none" stroke-width="1" />
<path d="M449.0,50.1 L449.7,50.3 L450.4,50.3 L451.1,50.1 L451.8,50.5 L452.5,50.8 L453.2,50.3 L453.9,50.8 L454.6,50.5 L455.3,51.3 L456.0,51.4 L456.7,50.9 L457.4,51.6 L458.1,51.7 L458.8,51.3 L459.5,51.8 L460.2,52.0 L460.9,51.9 L461.6,52.1 L462.3,52.6 L463.0,52.5 L463.7,52.5 L464.4,52.3 L465.1,52.5 L465.8,53.2 L466.5,53.2 L467.2,53.4 L467.9,53.3 L468.6,53.4 L469.3,53.5 L470.0,53.8 L470.7,53.6 L471.4,53.9M471.8,47.3 L472.5,47.6 L473.2,47.5 L473.9,47.5 L474.6,47.7 L475.3,48.0 L476.0,48.7 L476.7,48.8 L477.4,49.0 L478.1,49.0 L478.8,48.9M479.0,42.5 L479.7,42.9 L480.4,42.8 L481.1,43.0 L481.8,43.0 L482.5,43.0 L483.2,43.5 L483.9,43.5 L484.6,43.6 L485.3,43.6 L486.0,44.1M486.4,36.9 L487.1,37.2 L487.8,37.1 L488.5,37.6 L489.2,37.4 L489.9,37.6 L490.6,38.1 L491.3,38.1 L492.0,38.2 L492.7,38.1M493.6,24.8 L494.3,24.4 L495.0,25.0 L495.7,24.9 L496.4,24.8 L497.1,24.9 L497.8,24.8 L498.5,24.9 L499.2,24.5 L499.9,25.2 L500.6,25.1 L501.3,24.6 L502.0,24.7 L502.7,25.0" fill="none" stroke="#4355aa" stroke-width="1.9" />
<path d="M471.5,53.9V43.5M478.8,49.2V37.3M486.1,44V32.1M493.3,38.3V22.1" fill="none" stroke="#4355aa" stroke-width="1.0" />
<rect x="442.4" y="1" width="61.1" height="86.6" fill="none" stroke="#d24a4a" stroke-width="1.2" rx="0" />
<text x="350.7" y="16.9" font-size="8.5" fill="#444" textLength="38" lengthAdjust="spacingAndGlyphs" >Laser scan</text>
<line x1="330.9" y1="21.5" x2="402" y2="21.5" stroke="#444" stroke-width="1.3" />
<path d="M401,18.6 L406.6,21.5 L401,24.4 Z" fill="#222" stroke="none" stroke-width="1" />
<line x1="329" y1="29.1" x2="329" y2="39.2" stroke="#d64a48" stroke-width="1.1" />
<path d="M326.8,38.2 L329.0,43.2 L331.2,38.2 Z" fill="#d64a48" stroke="none" stroke-width="1" />
<text x="323.8" y="34.4" font-size="8.5" fill="#d64a48" textLength="1.6" lengthAdjust="spacingAndGlyphs" >I</text>
<line x1="361.1" y1="39.5" x2="361.1" y2="49.2" stroke="#d64a48" stroke-width="1.1" />
<path d="M358.9,48.2 L361.1,53.2 L363.3,48.2 Z" fill="#d64a48" stroke="none" stroke-width="1" />
<text x="352.5" y="44.3" font-size="8.5" fill="#d64a48" textLength="3.8" lengthAdjust="spacingAndGlyphs" >II</text>
<line x1="414" y1="33.9" x2="414" y2="43.6" stroke="#d64a48" stroke-width="1.1" />
<path d="M411.8,42.6 L414.0,47.6 L416.2,42.6 Z" fill="#d64a48" stroke="none" stroke-width="1" />
<text x="403.5" y="38.7" font-size="8.5" fill="#d64a48" textLength="6.2" lengthAdjust="spacingAndGlyphs" >III</text>
<path d="M248.6,98.5 V145.5 H362.5" fill="none" stroke="#222" stroke-width="1" />
<path d="M246.6,101 L248.6,96.5 L250.6,101 Z" fill="#222" stroke="none" stroke-width="1" />
<path d="M360.5,143.5 L365,145.5 L360.5,147.5 Z" fill="#222" stroke="none" stroke-width="1" />
<text x="241.8" y="122.9" font-size="8.5" fill="#444" text-anchor="middle" textLength="45.5" lengthAdjust="spacingAndGlyphs" transform="rotate(-90 241.8 122.9)" >Transmission</text>
<text x="255.3" y="96.5" font-size="8.5" fill="#444" textLength="75" lengthAdjust="spacingAndGlyphs" >Triangular resonance</text>
<text x="321.4" y="157.6" font-size="8.5" fill="#444" textLength="43" lengthAdjust="spacingAndGlyphs" >Wavelength</text>
<path d="M248.6,104.5 L249.1,104.5 L249.6,104.5 L250.1,104.6 L250.6,104.6 L251.1,104.6 L251.6,104.6 L252.1,104.6 L252.6,104.6 L253.1,104.6 L253.6,104.6 L254.1,104.6 L254.6,104.6 L255.1,104.6 L255.6,104.6 L256.1,104.6 L256.6,104.6 L257.1,104.6 L257.6,104.6 L258.1,104.6 L258.6,104.6 L259.1,104.7 L259.6,104.7 L260.1,104.7 L260.6,104.7 L261.1,104.7 L261.6,104.7 L262.1,104.7 L262.6,104.7 L263.1,104.7 L263.6,104.7 L264.1,104.8 L264.6,104.8 L265.1,104.8 L265.6,104.8 L266.1,104.8 L266.6,104.8 L267.1,104.9 L267.6,104.9 L268.1,104.9 L268.6,104.9 L269.1,104.9 L269.6,105.0 L270.1,105.0 L270.6,105.0 L271.1,105.1 L271.6,105.1 L272.1,105.1 L272.6,105.2 L273.1,105.2 L273.6,105.3 L274.1,105.3 L274.6,105.4 L275.1,105.4 L275.6,105.5 L276.1,105.6 L276.6,105.7 L277.1,105.8 L277.6,105.9 L278.1,106.0 L278.6,106.1 L279.1,106.3 L279.6,106.4 L280.1,106.6 L280.6,106.8 L281.1,107.1 L281.6,107.4 L282.1,107.7 L282.6,108.1 L283.1,108.6 L283.6,109.2 L284.1,109.8 L284.6,110.7 L285.1,111.7 L285.6,112.9 L286.1,114.5 L286.6,116.4 L287.1,118.8 L287.6,121.9 L288.1,125.6 L288.6,129.8 L289.1,134.3 L289.6,138.2 L290.1,140.5 L290.6,140.2 L291.1,137.6 L291.6,133.4 L292.1,128.9 L292.6,124.8 L293.1,121.2 L293.6,118.3 L294.1,116.0 L294.6,114.1 L295.1,112.6 L295.6,111.4 L296.1,110.5 L296.6,109.7 L297.1,109.0 L297.6,108.5 L298.1,108.0 L298.6,107.6 L299.1,107.3 L299.6,107.0 L300.1,106.8 L300.6,106.6 L301.1,106.4 L301.6,106.2 L302.1,106.1 L302.6,106.0 L303.1,105.8 L303.6,105.7 L304.1,105.6 L304.6,105.6 L305.1,105.5 L305.6,105.4 L306.1,105.4 L306.6,105.3" fill="none" stroke="#777" stroke-width="0.8" stroke-dasharray="2,1.3"/>
<path d="M291.0,133.8 L291.5,131.2 L292.0,129.0 L292.5,127.1 L293.0,125.4 L293.5,123.8 L294.0,122.3 L294.5,120.9 L295.0,119.6 L295.5,118.4 L296.0,117.2 L296.5,116.2 L297.0,115.1 L297.5,114.2 L298.0,113.3 L298.5,112.4 L299.0,111.6 L299.5,110.9 L300.0,110.2 L300.5,109.6 L301.0,109.0 L301.5,108.4 L302.0,107.9 L302.5,107.5 L303.0,107.1 L303.5,106.7 L304.0,106.4 L304.5,106.2 L305.0,106.0 L305.5,105.8 L306.0,105.7 L306.5,105.6 L307.0,105.6 L307.5,105.6 L308.0,105.6 L308.5,105.6 L309.0,105.6 L309.5,105.6 L310.0,105.7 L310.5,105.7 L311.0,105.8 L311.5,105.9 L312.0,106.1 L312.5,106.3 L313.0,106.6 L313.5,106.9 L314.0,107.2 L314.5,107.7" fill="none" stroke="#777" stroke-width="0.8" stroke-dasharray="2,1.3"/>
<path d="M314.5,107.7 L315.0,108.2 L315.5,108.8 L316.0,109.6 L316.5,110.4 L317.0,111.3 L317.5,112.4 L318.0,113.6 L318.5,114.9 L319.0,116.4 L319.5,118.1 L320.0,119.9 L320.5,122.0 L321.0,124.2 L321.5,126.6 L322.0,129.3 L322.5,132.1 L323.0,135.2 L323.5,138.6 L324.0,140.2 L324.5,138.3 L325.0,135.1 L325.5,131.3 L326.0,127.4 L326.5,124.0 L327.0,121.0 L327.5,118.4 L328.0,116.4 L328.5,114.7 L329.0,113.3 L329.5,112.1 L330.0,111.1 L330.5,110.3 L331.0,109.7 L331.5,109.1 L332.0,108.6 L332.5,108.2 L333.0,107.8 L333.5,107.5 L334.0,107.2 L334.5,107.0 L335.0,106.8 L335.5,106.6 L336.0,106.4 L336.5,106.3 L337.0,106.2 L337.5,106.0 L338.0,105.9 L338.5,105.8 L339.0,105.7 L339.5,105.7 L340.0,105.6 L340.5,105.5 L341.0,105.5 L341.5,105.4 L342.0,105.3 L342.5,105.3 L343.0,105.3 L343.5,105.2 L344.0,105.2 L344.5,105.1 L345.0,105.1 L345.5,105.1 L346.0,105.0 L346.5,105.0 L347.0,105.0 L347.5,105.0 L348.0,104.9 L348.5,104.9 L349.0,104.9 L349.5,104.9 L350.0,104.9 L350.5,104.8 L351.0,104.8 L351.5,104.8 L352.0,104.8 L352.5,104.8 L353.0,104.8 L353.5,104.8 L354.0,104.8 L354.5,104.7 L355.0,104.7 L355.5,104.7 L356.0,104.7 L356.5,104.7 L357.0,104.7 L357.5,104.7 L358.0,104.7 L358.5,104.7 L359.0,104.7 L359.5,104.7 L360.0,104.6 L360.5,104.6" fill="none" stroke="#555" stroke-width="0.8" />
<path d="M248.6,104.4 H290 L323.75,140.4 V104.4 H360.2" fill="none" stroke="#4a5ab0" stroke-width="1" />
<path d="M290.8,115.7 H314.6 C327,115.7 327,135.2 314.6,135.2 H293" fill="none" stroke="#d8464a" stroke-width="1" />
<path d="M294,133.6 L290.8,135.2 L294,136.8 Z" fill="#d8464a" stroke="none" stroke-width="1" />
<text x="523" y="9.6" font-size="11" fill="#111" font-weight="bold" textLength="13.2" lengthAdjust="spacingAndGlyphs" >(c)</text>
<rect x="545" y="1.4" width="120" height="166.9" fill="none" stroke="#bdbdbd" stroke-width="1" rx="0" />
<line x1="541" y1="20.2" x2="545" y2="20.2" stroke="#bdbdbd" stroke-width="1" />
<line x1="541" y1="38.5" x2="545" y2="38.5" stroke="#bdbdbd" stroke-width="1" />
<line x1="541" y1="57.4" x2="545" y2="57.4" stroke="#bdbdbd" stroke-width="1" />
<line x1="541" y1="75.3" x2="545" y2="75.3" stroke="#bdbdbd" stroke-width="1" />
<line x1="541" y1="94.2" x2="545" y2="94.2" stroke="#bdbdbd" stroke-width="1" />
<line x1="541" y1="112.8" x2="545" y2="112.8" stroke="#bdbdbd" stroke-width="1" />
<line x1="541" y1="131.5" x2="545" y2="131.5" stroke="#bdbdbd" stroke-width="1" />
<line x1="541" y1="150" x2="545" y2="150" stroke="#bdbdbd" stroke-width="1" />
<line x1="541" y1="168.3" x2="545" y2="168.3" stroke="#bdbdbd" stroke-width="1" />
<line x1="572.5" y1="168.3" x2="572.5" y2="172.3" stroke="#bdbdbd" stroke-width="1" />
<line x1="647.5" y1="168.3" x2="647.5" y2="172.3" stroke="#bdbdbd" stroke-width="1" />
<text x="572.5" y="181.6" font-size="8.5" fill="#444" text-anchor="middle" textLength="20.7" lengthAdjust="spacingAndGlyphs" >1,540</text>
<text x="647.5" y="181.6" font-size="8.5" fill="#444" text-anchor="middle" textLength="20.7" lengthAdjust="spacingAndGlyphs" >1,570</text>
<text x="604.8" y="194" font-size="8.5" fill="#444" text-anchor="middle" textLength="62" lengthAdjust="spacingAndGlyphs" >Wavelength (nm)</text>
<text x="533.5" y="85.3" font-size="8.5" fill="#444" text-anchor="middle" textLength="111" lengthAdjust="spacingAndGlyphs" transform="rotate(-90 533.5 85.3)" >Power 30 dB per division (a.u.)</text>
<text x="560.2" y="15.2" font-size="7" fill="#d64a48" textLength="1.8" lengthAdjust="spacingAndGlyphs" >I</text>
<text x="559.8" y="72" font-size="7" fill="#d64a48" textLength="4.5" lengthAdjust="spacingAndGlyphs" >II</text>
<text x="559.8" y="127.2" font-size="7" fill="#d64a48" textLength="6.5" lengthAdjust="spacingAndGlyphs" >III</text>
<path d="M545.5,56.0 L546.2,56.7 L546.9,55.8 L547.6,56.5 L548.3,55.8 L549.0,56.0 L549.7,56.3 L550.4,56.4 L551.1,56.7 L551.8,56.7 L552.5,56.2 L553.2,56.0 L553.9,55.9 L554.6,56.4 L555.3,55.9 L556.0,56.5 L556.7,55.9 L557.4,55.9 L558.1,56.6 L558.8,55.9 L559.5,56.1 L560.2,56.1 L560.9,56.0 L561.6,56.3 L562.3,56.3 L563.0,56.4 L563.7,55.9 L564.4,55.9 L565.1,56.6 L565.8,56.0 L566.5,56.5 L567.2,56.6 L567.9,56.6 L568.6,56.2 L569.3,56.5 L570.0,56.6 L570.7,56.7 L571.4,56.5 L572.1,56.0 L572.8,56.8 L573.5,56.3 L574.2,56.2 L574.9,56.8 L575.6,56.5 L576.3,55.9 L577.0,55.8 L577.7,55.9 L578.4,56.6 L579.1,56.0 L579.8,56.3 L580.5,56.6 L581.2,56.3 L581.9,55.9 L582.6,55.9 L583.3,56.4 L584.0,56.7 L584.7,55.9 L585.4,55.8 L586.1,56.3 L586.8,56.6 L587.5,56.3 L588.2,56.1 L588.9,56.3 L589.6,56.4 L590.3,56.6 L591.0,56.5 L591.7,56.8 L592.4,56.5 L593.1,55.8 L593.8,56.8 L594.5,56.1 L595.2,56.0 L595.9,56.4 L596.6,56.2 L597.3,56.6 L598.0,56.1 L598.7,56.1 L599.4,56.1 L600.1,56.3 L600.8,55.8 L601.5,55.9 L602.2,56.2 L602.9,56.1 L603.6,56.5 L604.3,55.9 L605.0,56.2 L605.7,55.9 L606.4,56.5 L607.1,55.8 L607.8,56.7 L608.5,56.3 L609.2,56.7 L609.9,56.6 L610.6,56.0 L611.3,56.7 L612.0,56.4 L612.7,56.6 L613.4,55.9 L614.1,56.7 L614.8,56.5 L615.5,55.9 L616.2,56.1 L616.9,56.1 L617.6,55.8 L618.3,56.8 L619.0,56.1 L619.7,56.1 L620.4,56.1 L621.1,56.1 L621.8,56.7 L622.5,56.7 L623.2,56.0 L623.9,56.2 L624.6,56.5 L625.3,56.8 L626.0,56.3 L626.7,56.7 L627.4,56.1 L628.1,56.5 L628.8,56.0 L629.5,56.7 L630.2,56.3 L630.9,56.7 L631.6,56.0 L632.3,56.2 L633.0,56.6 L633.7,55.8 L634.4,56.1 L635.1,56.5 L635.8,55.9 L636.5,56.4 L637.2,55.9 L637.9,56.5 L638.6,55.8 L639.3,56.7 L640.0,56.1 L640.7,56.5 L641.4,56.4 L642.1,56.2 L642.8,56.8 L643.5,56.6 L644.2,56.7 L644.9,56.1 L645.6,56.6 L646.3,56.3 L647.0,56.5 L647.7,56.6 L648.4,55.9 L649.1,56.3 L649.8,56.1 L650.5,56.1 L651.2,56.0 L651.9,56.5 L652.6,56.7 L653.3,56.3 L654.0,56.6 L654.7,56.8 L655.4,55.9 L656.1,56.2 L656.8,56.4 L657.5,56.7 L658.2,56.0 L658.9,56.3 L659.6,56.6 L660.3,55.8 L661.0,55.8 L661.7,55.9 L662.4,56.0 L663.1,56.3 L663.8,56.5 L664.5,57.6 L545.5,57.6Z" fill="#2a2e68" stroke="#2a2e68" stroke-width="0.6" />
<line x1="580.8" y1="57" x2="580.8" y2="44.2" stroke="#3b4480" stroke-width="0.9" />
<line x1="592.9" y1="57" x2="592.9" y2="29" stroke="#3b4480" stroke-width="0.9" />
<line x1="605" y1="57" x2="605" y2="18.9" stroke="#3b4480" stroke-width="0.9" />
<line x1="616.9" y1="57" x2="616.9" y2="29" stroke="#3b4480" stroke-width="0.9" />
<line x1="629.5" y1="57" x2="629.5" y2="44.7" stroke="#3b4480" stroke-width="0.9" />
<path d="M600.5,57.2 C602.5,55 604,49.7 605,49.7 C606,49.7 607.5,55 609.5,57.2" fill="#fff" stroke="#2a2e68" stroke-width="1.1" />
<path d="M545.5,110.9 L546.2,111.4 L546.9,111.0 L547.6,111.5 L548.3,111.6 L549.0,110.9 L549.7,111.3 L550.4,110.9 L551.1,110.8 L551.8,110.8 L552.5,111.0 L553.2,110.8 L553.9,110.9 L554.6,110.7 L555.3,110.7 L556.0,111.6 L556.7,111.3 L557.4,111.2 L558.1,111.3 L558.8,111.4 L559.5,110.7 L560.2,111.6 L560.9,111.4 L561.6,110.8 L562.3,111.4 L563.0,111.3 L563.7,110.6 L564.4,110.8 L565.1,111.2 L565.8,111.5 L566.5,111.3 L567.2,110.6 L567.9,110.8 L568.6,111.5 L569.3,110.9 L570.0,111.2 L570.7,110.9 L571.4,111.3 L572.1,111.5 L572.8,111.6 L573.5,111.3 L574.2,110.7 L574.9,110.7 L575.6,110.9 L576.3,110.9 L577.0,111.4 L577.7,111.2 L578.4,110.7 L579.1,110.6 L579.8,111.2 L580.5,110.8 L581.2,110.7 L581.9,110.6 L582.6,111.3 L583.3,110.9 L584.0,111.2 L584.7,111.1 L585.4,111.1 L586.1,111.3 L586.8,111.6 L587.5,110.8 L588.2,110.9 L588.9,110.8 L589.6,111.4 L590.3,111.4 L591.0,111.0 L591.7,110.7 L592.4,111.1 L593.1,111.4 L593.8,111.0 L594.5,110.6 L595.2,110.7 L595.9,110.7 L596.6,111.2 L597.3,111.3 L598.0,110.7 L598.7,110.8 L599.4,110.7 L600.1,111.2 L600.8,111.3 L601.5,111.4 L602.2,110.7 L602.9,110.7 L603.6,111.2 L604.3,110.7 L605.0,111.2 L605.7,111.2 L606.4,111.0 L607.1,111.4 L607.8,111.3 L608.5,111.3 L609.2,111.3 L609.9,111.1 L610.6,111.5 L611.3,110.8 L612.0,111.4 L612.7,111.2 L613.4,111.0 L614.1,111.5 L614.8,111.2 L615.5,111.0 L616.2,111.0 L616.9,110.7 L617.6,110.8 L618.3,111.5 L619.0,110.8 L619.7,111.1 L620.4,110.9 L621.1,111.4 L621.8,111.1 L622.5,110.9 L623.2,110.8 L623.9,110.8 L624.6,111.4 L625.3,110.8 L626.0,111.0 L626.7,110.9 L627.4,110.7 L628.1,111.2 L628.8,110.7 L629.5,110.7 L630.2,110.8 L630.9,111.2 L631.6,111.1 L632.3,111.4 L633.0,110.8 L633.7,110.7 L634.4,111.4 L635.1,110.9 L635.8,110.9 L636.5,111.6 L637.2,110.7 L637.9,111.1 L638.6,111.3 L639.3,111.6 L640.0,110.8 L640.7,111.3 L641.4,111.1 L642.1,111.4 L642.8,111.0 L643.5,111.2 L644.2,110.8 L644.9,110.9 L645.6,110.9 L646.3,111.3 L647.0,111.5 L647.7,110.7 L648.4,110.7 L649.1,111.0 L649.8,110.7 L650.5,110.9 L651.2,111.0 L651.9,111.2 L652.6,111.2 L653.3,111.1 L654.0,111.4 L654.7,111.2 L655.4,111.1 L656.1,111.6 L656.8,111.2 L657.5,111.3 L658.2,111.0 L658.9,110.8 L659.6,111.0 L660.3,110.9 L661.0,111.0 L661.7,111.3 L662.4,111.2 L663.1,110.8 L663.8,110.7 L664.5,112.4 L545.5,112.4Z" fill="#2a2e68" stroke="#2a2e68" stroke-width="0.6" />
<path d="M565.6,112V111.8M566.1,112V111.6M566.5,112V111.0M567.0,112V110.8M567.5,112V110.6M567.9,112V110.3M568.4,112V110.3M568.8,112V110.3M569.2,112V110.9M569.7,112V111.1M570.1,112V111.3M570.6,112V111.6M570.9,112V111.4M571.4,112V111.1M571.8,112V110.4M572.2,112V109.8M572.7,112V109.7M573.1,112V108.6M573.6,112V108.8M574.0,112V109.1M574.5,112V110.3M575.0,112V110.5M575.4,112V110.6M575.9,112V111.1M576.1,112V111.1M576.6,112V110.0M577.0,112V110.0M577.5,112V108.2M578.0,112V107.3M578.4,112V107.0M578.9,112V107.0M579.3,112V107.2M579.8,112V108.7M580.2,112V108.9M580.6,112V109.7M581.1,112V110.6M581.4,112V110.8M581.9,112V109.9M582.3,112V108.7M582.8,112V106.3M583.2,112V106.6M583.6,112V106.0M584.1,112V105.0M584.5,112V105.2M585.0,112V106.1M585.5,112V106.8M585.9,112V108.2M586.4,112V109.5M586.6,112V109.9M587.1,112V108.4M587.5,112V107.5M588.0,112V103.7M588.5,112V104.4M588.9,112V101.3M589.4,112V102.1M589.8,112V101.3M590.2,112V105.1M590.7,112V106.0M591.1,112V108.0M591.6,112V108.7M591.9,112V109.5M592.4,112V107.1M592.8,112V105.8M593.2,112V104.4M593.7,112V99.5M594.1,112V97.7M594.6,112V96.7M595.0,112V97.5M595.5,112V101.8M596.0,112V105.2M596.4,112V105.9M596.9,112V108.7M597.1,112V109.3M597.6,112V106.8M598.0,112V104.0M598.5,112V100.0M599.0,112V97.9M599.4,112V97.8M599.9,112V93.8M600.3,112V96.1M600.8,112V99.2M601.2,112V102.7M601.6,112V104.2M602.1,112V107.8M602.4,112V109.6M602.9,112V107.0M603.3,112V103.3M603.8,112V101.9M604.2,112V99.3M604.6,112V97.1M605.1,112V97.4M605.5,112V100.1M606.0,112V102.3M606.5,112V101.7M606.9,112V105.5M607.4,112V107.7M607.6,112V108.8M608.1,112V106.4M608.5,112V103.2M609.0,112V100.7M609.5,112V97.1M609.9,112V99.9M610.4,112V96.8M610.8,112V95.6M611.2,112V100.7M611.7,112V101.1M612.1,112V106.2M612.6,112V108.6M612.9,112V109.3M613.4,112V107.6M613.8,112V105.2M614.2,112V101.5M614.7,112V102.4M615.1,112V96.6M615.6,112V98.7M616.0,112V101.3M616.5,112V103.2M617.0,112V104.0M617.4,112V106.3M617.9,112V107.8M618.1,112V110.5M618.6,112V109.1M619.0,112V107.5M619.5,112V104.7M620.0,112V102.4M620.4,112V102.0M620.9,112V100.5M621.3,112V102.0M621.8,112V105.7M622.2,112V106.4M622.6,112V106.4M623.1,112V109.3M623.4,112V110.4M623.9,112V109.4M624.3,112V108.6M624.8,112V108.0M625.2,112V106.6M625.6,112V105.3M626.1,112V104.3M626.5,112V105.4M627.0,112V106.2M627.5,112V107.6M627.9,112V109.4M628.4,112V110.1M628.6,112V111.0M629.1,112V110.6M629.5,112V109.2M630.0,112V108.8M630.5,112V107.6M630.9,112V107.6M631.4,112V107.1M631.8,112V107.5M632.2,112V107.7M632.7,112V109.3M633.1,112V110.2M633.6,112V110.9M633.9,112V111.4M634.4,112V111.1M634.8,112V110.8M635.2,112V110.0M635.7,112V109.3M636.1,112V109.1M636.6,112V109.4M637.0,112V109.5M637.5,112V110.0M638.0,112V110.6M638.4,112V110.5M638.9,112V111.2M639.1,112V111.8M639.6,112V111.4M640.0,112V111.0M640.5,112V110.8M641.0,112V110.8M641.4,112V110.7M641.9,112V110.3M642.3,112V110.5M642.8,112V110.6M643.2,112V110.9M643.6,112V111.2M644.1,112V111.6" fill="none" stroke="#2a2e68" stroke-width="0.7" />
<path d="M576.8,112V101.0M579.0,112V102.5M583.7,112V94.6M589.2,112V89.3M592.9,112V93.3M594.4,112V84.0M599.4,112V90.0M604.9,112V74.9M609.9,112V90.6M615.5,112V82.7M617.2,112V92.6M619.8,112V94.6M621.1,112V91.3M626.4,112V95.2M631.6,112V103.1M637.3,112V105.0M570.5,112V107.5M642.0,112V108.5" fill="none" stroke="#3a4280" stroke-width="0.85" />
<path d="M602.6,112.2 C603.3,108 604,105.8 605,105.8 C606,105.8 606.7,108 607.4,112.2 Z" fill="#fff" stroke="none" stroke-width="1" />
<path d="M545.5,167.2 L546.1,166.5 L546.7,166.9 L547.3,166.1 L547.9,166.1 L548.5,166.0 L549.1,166.1 L549.7,166.0 L550.3,166.4 L550.9,165.4 L551.5,165.4 L552.1,166.0 L552.7,165.9 L553.3,165.8 L553.9,165.5 L554.5,165.2 L555.1,164.8 L555.7,164.8 L556.3,163.6 L556.9,163.5 L557.5,164.0 L558.1,163.0 L558.7,163.2 L559.3,162.6 L559.9,162.5 L560.5,162.8 L561.1,162.3 L561.7,161.7 L562.3,161.2 L562.9,161.7 L563.5,161.2 L564.1,160.6 L564.7,160.9 L565.3,160.4 L565.9,160.5 L566.5,159.8 L567.1,159.8 L567.7,159.0 L568.3,159.0 L568.9,158.9 L569.5,157.5 L570.1,157.8 L570.7,157.7 L571.3,156.6 L571.9,157.4 L572.5,157.0 L573.1,156.8 L573.7,155.6 L574.3,155.3 L574.9,155.4 L575.5,154.3 L576.1,154.4 L576.7,153.4 L577.3,152.8 L577.9,152.2 L578.5,151.7 L579.1,151.5 L579.7,150.7 L580.3,151.2 L580.9,150.9 L581.5,149.2 L582.1,148.7 L582.7,148.2 L583.3,149.0 L583.9,147.3 L584.5,147.7 L585.1,146.8 L585.7,146.4 L586.3,146.3 L586.9,146.7 L587.5,145.6 L588.1,146.5 L588.7,145.9 L589.3,145.2 L589.9,145.0 L590.5,145.4 L591.1,145.1 L591.7,144.5 L592.3,144.3 L592.9,144.3 L593.5,144.7 L594.1,144.0 L594.7,144.2 L595.3,143.8 L595.9,143.8 L596.5,143.7 L597.1,144.1 L597.7,143.9 L598.3,144.2 L598.9,143.5 L599.5,143.8 L600.1,144.6 L600.7,144.0 L601.3,144.7 L601.9,144.9 L602.5,144.5 L603.1,143.9 L603.7,144.8 L604.3,144.8 L604.9,144.3 L605.5,145.1 L606.1,144.5 L606.7,143.8 L607.3,143.8 L607.9,144.0 L608.5,144.5 L609.1,144.7 L609.7,143.6 L610.3,143.5 L610.9,144.3 L611.5,143.9 L612.1,143.9 L612.7,144.4 L613.3,144.5 L613.9,144.5 L614.5,144.2 L615.1,143.1 L615.7,143.2 L616.3,143.8 L616.9,144.2 L617.5,143.2 L618.1,144.1 L618.7,144.2 L619.3,144.5 L619.9,144.5 L620.5,144.8 L621.1,145.0 L621.7,145.1 L622.3,146.0 L622.9,146.1 L623.5,146.7 L624.1,146.9 L624.7,147.6 L625.3,147.1 L625.9,148.2 L626.5,147.9 L627.1,148.7 L627.7,149.2 L628.3,149.1 L628.9,149.5 L629.5,150.1 L630.1,149.8 L630.7,150.7 L631.3,150.4 L631.9,150.8 L632.5,151.7 L633.1,152.4 L633.7,152.7 L634.3,152.0 L634.9,152.1 L635.5,152.9 L636.1,153.0 L636.7,153.2 L637.3,154.0 L637.9,154.2 L638.5,154.3 L639.1,154.6 L639.7,154.8 L640.3,155.2 L640.9,155.9 L641.5,156.2 L642.1,156.5 L642.7,156.6 L643.3,155.8 L643.9,156.5 L644.5,157.3 L645.1,156.9 L645.7,157.6 L646.3,157.2 L646.9,157.7 L647.5,158.3 L648.1,158.1 L648.7,158.9 L649.3,159.0 L649.9,160.2 L650.5,159.7 L651.1,160.1 L651.7,161.0 L652.3,161.0 L652.9,160.6 L653.5,161.1 L654.1,162.0 L654.7,161.8 L655.3,162.2 L655.9,163.0 L656.5,163.2 L657.1,163.2 L657.7,163.9 L658.3,164.4 L658.9,163.9 L659.5,164.5 L660.1,164.9 L660.7,165.9 L661.3,165.0 L661.9,165.7 L662.5,165.8 L663.1,166.8 L663.7,167.2 L664.3,166.4 L664.5,168.3 L545.5,168.3Z" fill="#2a2e68" stroke="none" stroke-width="1" />
<path d="M559.8,166.3V166.2M563.6,163.2V165.0M571.2,159.5V165.7M582.6,152.3V164.0M590.2,147.4V167.7M592.1,146.8V163.0M594.0,146.4V162.1M611.1,145.2V165.8M616.8,147.0V167.8M628.2,150.1V164.9M630.1,152.5V164.8M632.0,155.1V163.9M633.9,155.2V164.8M641.5,159.4V165.1M643.4,158.4V165.8M649.1,162.3V165.0M652.9,164.7V162.6M654.8,164.6V167.3M658.6,167.9V166.9" fill="none" stroke="#7c84b8" stroke-width="0.45" />
<line x1="605" y1="160" x2="605" y2="131" stroke="#4a5290" stroke-width="1" />
<line x1="553" y1="166" x2="553" y2="157.5" stroke="#3a4280" stroke-width="0.9" />
<line x1="577.4" y1="152" x2="577.4" y2="149" stroke="#2a2e68" stroke-width="0.9" />
<path d="M603,168.3 C603.5,164 604.3,162 605.3,162 C606.3,162 607,164 607.6,168.3 Z" fill="#fff" stroke="none" stroke-width="1" />
<text x="0.6" y="225.2" font-size="11" fill="#111" font-weight="bold" textLength="13.3" lengthAdjust="spacingAndGlyphs" >(d)</text>
<rect x="37.3" y="222.1" width="232.6" height="92.2" fill="none" stroke="#a8a8a8" stroke-width="1" rx="0" />
<line x1="33.3" y1="245.2" x2="37.3" y2="245.2" stroke="#a8a8a8" stroke-width="1" />
<line x1="33.3" y1="268.2" x2="37.3" y2="268.2" stroke="#a8a8a8" stroke-width="1" />
<line x1="33.3" y1="291.2" x2="37.3" y2="291.2" stroke="#a8a8a8" stroke-width="1" />
<line x1="63.3" y1="314.3" x2="63.3" y2="318.3" stroke="#a8a8a8" stroke-width="1" />
<text x="62.3" y="327.8" font-size="8.5" fill="#474747" text-anchor="middle" textLength="18.5" lengthAdjust="spacingAndGlyphs" >1,520</text>
<line x1="115" y1="314.3" x2="115" y2="318.3" stroke="#a8a8a8" stroke-width="1" />
<text x="114" y="327.8" font-size="8.5" fill="#474747" text-anchor="middle" textLength="18.5" lengthAdjust="spacingAndGlyphs" >1,540</text>
<line x1="166.6" y1="314.3" x2="166.6" y2="318.3" stroke="#a8a8a8" stroke-width="1" />
<text x="165.6" y="327.8" font-size="8.5" fill="#474747" text-anchor="middle" textLength="18.5" lengthAdjust="spacingAndGlyphs" >1,560</text>
<line x1="218.3" y1="314.3" x2="218.3" y2="318.3" stroke="#a8a8a8" stroke-width="1" />
<text x="217.3" y="327.8" font-size="8.5" fill="#474747" text-anchor="middle" textLength="18.5" lengthAdjust="spacingAndGlyphs" >1,580</text>
<text x="27.8" y="265.7" font-size="8.5" fill="#474747" text-anchor="middle" textLength="96" lengthAdjust="spacingAndGlyphs" transform="rotate(-90 27.8 265.7)" >Power 20 dB per division (a.u.)</text>
<text x="46.4" y="236" font-size="8.5" fill="#474747" textLength="42.2" lengthAdjust="spacingAndGlyphs" >Two solitons</text>
<rect x="35.8" y="352" width="232.8" height="92.4" fill="none" stroke="#a8a8a8" stroke-width="1" rx="0" />
<line x1="31.8" y1="375.1" x2="35.8" y2="375.1" stroke="#a8a8a8" stroke-width="1" />
<line x1="31.8" y1="398.2" x2="35.8" y2="398.2" stroke="#a8a8a8" stroke-width="1" />
<line x1="31.8" y1="421.3" x2="35.8" y2="421.3" stroke="#a8a8a8" stroke-width="1" />
<line x1="62.4" y1="444.4" x2="62.4" y2="448.4" stroke="#a8a8a8" stroke-width="1" />
<text x="61.4" y="457.9" font-size="8.5" fill="#474747" text-anchor="middle" textLength="18.5" lengthAdjust="spacingAndGlyphs" >1,520</text>
<line x1="113.7" y1="444.4" x2="113.7" y2="448.4" stroke="#a8a8a8" stroke-width="1" />
<text x="112.7" y="457.9" font-size="8.5" fill="#474747" text-anchor="middle" textLength="18.5" lengthAdjust="spacingAndGlyphs" >1,540</text>
<line x1="165.1" y1="444.4" x2="165.1" y2="448.4" stroke="#a8a8a8" stroke-width="1" />
<text x="164.1" y="457.9" font-size="8.5" fill="#474747" text-anchor="middle" textLength="18.5" lengthAdjust="spacingAndGlyphs" >1,560</text>
<line x1="216.4" y1="444.4" x2="216.4" y2="448.4" stroke="#a8a8a8" stroke-width="1" />
<text x="215.4" y="457.9" font-size="8.5" fill="#474747" text-anchor="middle" textLength="18.5" lengthAdjust="spacingAndGlyphs" >1,580</text>
<text x="27.8" y="394" font-size="8.5" fill="#474747" text-anchor="middle" textLength="96" lengthAdjust="spacingAndGlyphs" transform="rotate(-90 27.8 394)" >Power 20 dB per division (a.u.)</text>
<text x="43.7" y="364.8" font-size="8.5" fill="#474747" textLength="38.6" lengthAdjust="spacingAndGlyphs" >One soliton</text>
<text x="142.5" y="470.8" font-size="8.5" fill="#474747" text-anchor="middle" textLength="61" lengthAdjust="spacingAndGlyphs" >Wavelength (nm)</text>
<path d="M37.8,309.4 L38.3,309.5 L38.8,310.3 L39.3,309.3 L39.8,308.8 L40.3,311.0 L40.8,310.5 L41.3,310.3 L41.8,308.5 L42.3,310.2 L42.8,310.8 L43.3,309.7 L43.8,309.3 L44.3,309.3 L44.8,309.9 L45.3,310.3 L45.8,311.1 L46.3,309.8 L46.8,309.5 L47.3,310.0 L47.8,308.7 L48.3,310.6 L48.8,305.9 L49.3,307.0 L49.8,308.9 L50.3,308.8 L50.8,310.5 L51.3,308.8 L51.8,310.1 L52.3,309.4 L52.8,308.7 L53.3,309.6 L53.8,309.6 L54.3,310.9 L54.8,309.6 L55.3,310.5 L55.8,310.1 L56.3,310.2 L56.8,308.7 L57.3,309.5 L57.8,309.3 L58.3,310.7 L58.8,310.2 L59.3,308.9 L59.8,310.2 L60.3,308.7 L60.8,309.1 L61.3,310.1 L61.8,309.8 L62.3,307.6 L62.8,308.6 L63.3,307.6 L63.8,307.6 L64.3,306.4 L64.8,305.2 L65.3,305.9 L65.8,305.8 L66.3,307.1 L66.8,305.1 L67.3,307.3 L67.8,306.7 L68.3,304.9 L68.8,305.8 L69.3,306.3 L69.8,303.6 L70.3,304.6 L70.8,304.0 L71.3,303.3 L71.8,302.9 L72.3,302.0 L72.8,303.4 L73.3,301.8 L73.8,302.2 L74.3,303.4 L74.8,301.4 L75.3,301.0 L75.8,302.6 L76.3,301.3 L76.8,301.0 L77.3,299.6 L77.8,300.6 L78.3,299.5 L78.8,299.7 L79.3,299.0 L79.8,297.8 L80.3,299.9 L80.8,299.0 L81.3,299.6 L81.8,297.3 L82.3,297.0 L82.8,296.2 L83.3,296.5 L83.8,296.2 L84.3,295.5 L84.8,295.5 L85.3,295.3 L85.8,296.7 L86.3,295.2 L86.8,296.0 L87.3,293.4 L87.8,293.6 L88.3,295.6 L88.8,292.6 L89.3,292.4 L89.8,293.4 L90.3,292.5 L90.8,291.9 L91.3,292.9 L91.8,292.6 L92.3,291.0 L92.8,291.8 L93.3,291.3 L93.8,292.2 L94.3,289.5 L94.8,289.7 L95.3,290.5 L95.8,288.6 L96.3,290.7 L96.8,290.8 L97.3,288.6 L97.8,289.7 L98.3,287.8 L98.8,289.6 L99.3,287.1 L99.8,286.2 L100.3,286.1 L100.8,287.0 L101.3,285.5 L101.8,288.0 L102.3,286.7 L102.8,286.2 L103.3,286.1 L103.8,285.2 L104.3,286.3 L104.8,285.5 L105.3,284.4 L105.8,283.7 L106.3,283.0 L106.8,283.2 L107.3,283.0 L107.8,282.0 L108.3,284.2 L108.8,281.9 L109.3,282.5 L109.8,280.8 L110.3,282.0 L110.8,282.0 L111.3,280.0 L111.8,282.4 L112.3,279.7 L112.8,279.7 L113.3,280.8 L113.8,279.4 L114.3,280.7 L114.8,278.5 L115.3,278.5 L115.8,279.3 L116.3,279.6 L116.8,279.3 L117.3,277.3 L117.8,277.7 L118.3,277.1 L118.8,277.6 L119.3,276.0 L119.8,277.6 L120.3,276.9 L120.8,275.0 L121.3,275.2 L121.8,275.0 L122.3,276.5 L122.8,274.8 L123.3,275.0 L123.8,275.7 L124.3,273.8 L124.8,275.2 L125.3,273.0 L125.8,271.9 L126.3,271.9 L126.8,273.4 L127.3,272.3 L127.8,273.4 L128.3,272.2 L128.8,272.4 L129.3,271.2 L129.8,271.6 L130.3,271.7 L130.8,270.5 L131.3,270.6 L131.8,271.5 L132.3,271.5 L132.8,269.5 L133.3,268.5 L133.8,270.6 L134.3,269.2 L134.8,270.5 L135.3,269.7 L135.8,268.3 L136.3,269.6 L136.8,268.5 L137.3,268.8 L137.8,269.2 L138.3,268.1 L138.8,269.0 L139.3,267.2 L139.8,267.0 L140.3,267.6 L140.8,266.8 L141.3,267.6 L141.8,266.9 L142.3,267.4 L142.8,267.6 L143.3,266.7 L143.8,267.7 L144.3,267.2 L144.8,267.3 L145.3,264.8 L145.8,264.7 L146.3,266.5 L146.8,265.6 L147.3,267.1 L147.8,265.7 L148.3,266.7 L148.8,265.2 L149.3,266.4 L149.8,267.2 L150.3,267.1 L150.8,265.7 L151.3,266.1 L151.8,266.3 L152.3,265.8 L152.8,266.3 L153.3,267.8 L153.8,267.7 L154.3,266.1 L154.8,267.3 L155.3,268.2 L155.8,266.6 L156.3,268.1 L156.8,268.1 L157.3,268.5 L157.8,266.3 L158.3,269.0 L158.8,269.3 L159.3,267.3 L159.8,268.6 L160.3,267.2 L160.8,268.9 L161.3,269.4 L161.8,269.7 L162.3,270.3 L162.8,268.8 L163.3,268.4 L163.8,270.8 L164.3,268.6 L164.8,269.5 L165.3,269.7 L165.8,271.5 L166.3,270.8 L166.8,272.2 L167.3,271.9 L167.8,272.7 L168.3,272.8 L168.8,273.3 L169.3,271.7 L169.8,272.2 L170.3,273.3 L170.8,273.4 L171.3,274.3 L171.8,274.6 L172.3,273.4 L172.8,273.1 L173.3,275.2 L173.8,275.3 L174.3,274.3 L174.8,273.9 L175.3,274.1 L175.8,275.0 L176.3,275.4 L176.8,275.5 L177.3,275.3 L177.8,275.9 L178.3,276.7 L178.8,276.2 L179.3,276.8 L179.8,277.8 L180.3,279.3 L180.8,279.6 L181.3,278.5 L181.8,278.0 L182.3,278.7 L182.8,280.2 L183.3,279.6 L183.8,280.4 L184.3,281.2 L184.8,281.2 L185.3,282.1 L185.8,280.1 L186.3,281.0 L186.8,280.5 L187.3,282.2 L187.8,282.8 L188.3,282.0 L188.8,281.7 L189.3,283.2 L189.8,282.5 L190.3,282.9 L190.8,283.8 L191.3,285.7 L191.8,284.3 L192.3,285.6 L192.8,284.9 L193.3,285.2 L193.8,284.7 L194.3,285.1 L194.8,287.2 L195.3,286.4 L195.8,286.3 L196.3,288.7 L196.8,288.6 L197.3,287.1 L197.8,287.9 L198.3,288.5 L198.8,287.6 L199.3,288.7 L199.8,288.5 L200.3,290.4 L200.8,288.5 L201.3,291.5 L201.8,289.5 L202.3,290.1 L202.8,289.6 L203.3,292.4 L203.8,292.4 L204.3,290.4 L204.8,292.1 L205.3,292.0 L205.8,292.9 L206.3,292.4 L206.8,294.5 L207.3,292.6 L207.8,294.7 L208.3,293.3 L208.8,294.7 L209.3,294.3 L209.8,294.9 L210.3,295.2 L210.8,295.8 L211.3,294.4 L211.8,294.7 L212.3,297.7 L212.8,295.8 L213.3,296.4 L213.8,296.3 L214.3,297.8 L214.8,299.1 L215.3,297.7 L215.8,297.7 L216.3,298.1 L216.8,297.4 L217.3,297.9 L217.8,298.0 L218.3,299.1 L218.8,301.4 L219.3,299.2 L219.8,300.7 L220.3,299.9 L220.8,299.7 L221.3,302.4 L221.8,300.5 L222.3,300.8 L222.8,303.2 L223.3,301.7 L223.8,301.9 L224.3,304.4 L224.8,302.4 L225.3,304.6 L225.8,303.3 L226.3,304.4 L226.8,303.9 L227.3,304.3 L227.8,306.3 L228.3,306.6 L228.8,304.6 L229.3,306.6 L229.8,305.1 L230.3,305.9 L230.8,305.5 L231.3,307.5 L231.8,308.0 L232.3,308.3 L232.8,308.7 L233.3,307.8 L233.8,307.5 L234.3,307.2 L234.8,308.8 L235.3,310.2 L235.8,309.0 L236.3,310.2 L236.8,308.8 L237.3,309.1 L237.8,309.1 L238.3,309.0 L238.8,308.6 L239.3,308.6 L239.8,309.8 L240.3,310.2 L240.8,309.3 L241.3,308.7 L241.8,304.2 L242.3,311.0 L242.8,311.0 L243.3,304.5 L243.8,309.1 L244.3,303.3 L244.8,310.2 L245.3,309.8 L245.8,309.8 L246.3,310.9 L246.8,311.1 L247.3,309.8 L247.8,306.9 L248.3,308.9 L248.8,310.6 L249.3,309.0 L249.8,310.4 L250.3,309.8 L250.8,309.3 L251.3,310.7 L251.8,308.7 L252.3,308.7 L252.8,308.7 L253.3,311.1 L253.8,309.5 L254.3,304.1 L254.8,308.9 L255.3,305.2 L255.8,310.8 L256.3,305.3 L256.8,310.4 L257.3,310.9 L257.8,310.9 L258.3,309.5 L258.8,309.8 L259.3,309.2 L259.8,309.1 L260.3,311.1 L260.8,308.8 L261.3,308.9 L261.8,308.8 L262.3,303.7 L262.8,310.1 L263.3,305.6 L263.8,308.8 L264.3,310.0 L264.8,309.9 L265.3,309.4 L265.8,309.4 L266.3,309.4 L266.8,309.5 L267.3,309.8 L267.8,309.2 L268.3,310.1 L268.8,310.4 L269.3,308.8 L269.3,314.3 L37.8,314.3Z" fill="#aab3df" stroke="none" stroke-width="1" />
<path d="M37.8,314.3V309.7M39.8,314.3V310.1M41.8,314.3V309.1M43.8,314.3V309.6M45.8,314.3V312.2M47.8,314.3V309.1M49.8,314.3V310.3M51.8,314.3V310.5M53.8,314.3V310.9M55.8,314.3V310.8M57.8,314.3V310.7M59.8,314.3V310.7M61.8,314.3V311.2M63.8,314.3V308.1M65.8,314.3V306.5M67.8,314.3V307.7M69.8,314.3V304.4M71.8,314.3V303.9M73.8,314.3V303.3M75.8,314.3V303.0M77.8,314.3V300.6M79.8,314.3V298.9M81.8,314.3V298.2M83.8,314.3V297.1M85.8,314.3V297.5M87.8,314.3V295.0M89.8,314.3V293.9M91.8,314.3V293.9M93.8,314.3V292.4M95.8,314.3V289.6M97.8,314.3V291.1M99.8,314.3V286.5M101.8,314.3V289.2M103.8,314.3V285.6M105.8,314.3V283.8M107.8,314.3V282.6M109.8,314.3V281.8M111.8,314.3V282.8M113.8,314.3V280.8M115.8,314.3V279.3M117.8,314.3V278.1M119.8,314.3V278.1M121.8,314.3V275.5M123.8,314.3V276.2M125.8,314.3V271.9M127.8,314.3V273.7M129.8,314.3V272.0M131.8,314.3V272.5M133.8,314.3V271.2M135.8,314.3V269.4M137.8,314.3V269.8M139.8,314.3V267.5M141.8,314.3V267.2M143.8,314.3V268.0M145.8,314.3V266.0M147.8,314.3V266.4M149.8,314.3V267.7M151.8,314.3V266.6M153.8,314.3V269.0M155.8,314.3V267.6M157.8,314.3V267.3M159.8,314.3V269.8M161.8,314.3V270.1M163.8,314.3V271.9M165.8,314.3V271.7M167.8,314.3V273.7M169.8,314.3V272.7M171.8,314.3V275.6M173.8,314.3V275.6M175.8,314.3V275.6M177.8,314.3V276.9M179.8,314.3V279.2M181.8,314.3V278.5M183.8,314.3V280.7M185.8,314.3V280.2M187.8,314.3V283.8M189.8,314.3V283.9M191.8,314.3V284.3M193.8,314.3V285.2M195.8,314.3V286.5M197.8,314.3V289.3M199.8,314.3V288.7M201.8,314.3V289.6M203.8,314.3V293.6M205.8,314.3V294.4M207.8,314.3V295.8M209.8,314.3V295.1M211.8,314.3V295.3M213.8,314.3V297.1M215.8,314.3V299.1M217.8,314.3V299.2M219.8,314.3V300.7M221.8,314.3V301.2M223.8,314.3V303.0M225.8,314.3V304.1M227.8,314.3V307.3M229.8,314.3V306.5M231.8,314.3V309.5M233.8,314.3V308.7M235.8,314.3V309.8M237.8,314.3V309.6M239.8,314.3V310.1M241.8,314.3V304.4M243.8,314.3V310.1M245.8,314.3V311.0M247.8,314.3V308.1M249.8,314.3V311.8M251.8,314.3V309.2M253.8,314.3V310.0M255.8,314.3V311.1M257.8,314.3V311.7M259.8,314.3V310.5M261.8,314.3V309.9M263.8,314.3V309.5M265.8,314.3V309.6M267.8,314.3V310.4" fill="none" stroke="#3d4fa6" stroke-width="1.1" />
<path d="M37.8,309.4 L38.3,309.5 L38.8,310.3 L39.3,309.3 L39.8,308.8 L40.3,311.0 L40.8,310.5 L41.3,310.3 L41.8,308.5 L42.3,310.2 L42.8,310.8 L43.3,309.7 L43.8,309.3 L44.3,309.3 L44.8,309.9 L45.3,310.3 L45.8,311.1 L46.3,309.8 L46.8,309.5 L47.3,310.0 L47.8,308.7 L48.3,310.6 L48.8,305.9 L49.3,307.0 L49.8,308.9 L50.3,308.8 L50.8,310.5 L51.3,308.8 L51.8,310.1 L52.3,309.4 L52.8,308.7 L53.3,309.6 L53.8,309.6 L54.3,310.9 L54.8,309.6 L55.3,310.5 L55.8,310.1 L56.3,310.2 L56.8,308.7 L57.3,309.5 L57.8,309.3 L58.3,310.7 L58.8,310.3 L59.3,308.9 L59.8,310.8 L60.3,308.7 L60.8,310.0 L61.3,310.1 L61.8,309.8 L62.3,310.0 L62.8,309.9 L63.3,310.0 L63.8,309.3 L64.3,310.4 L64.8,305.2 L65.3,310.0 L65.8,310.9 L66.3,310.0 L66.8,309.9 L67.3,309.1 L67.8,310.8 L68.3,310.1 L68.8,309.1 L69.3,310.3 L69.8,309.0 L70.3,309.3 L70.8,311.0 L71.3,310.1 L71.8,309.2 L72.3,308.2 L72.8,307.3 L73.3,306.4 L73.8,305.6 L74.3,304.9 L74.8,304.2 L75.3,303.6 L75.8,303.0 L76.3,302.4 L76.8,301.9 L77.3,301.5 L77.8,301.1 L78.3,300.7 L78.8,300.4 L79.3,300.1 L79.8,299.9 L80.3,299.7 L80.8,299.5 L81.3,299.4 L81.8,299.4 L82.3,299.4 L82.8,299.4 L83.3,299.5 L83.8,299.6 L84.3,299.8 L84.8,300.0 L85.3,300.3 L85.8,300.7 L86.3,301.2 L86.8,301.8 L87.3,302.4 L87.8,303.2 L88.3,304.1 L88.8,305.2 L89.3,306.5 L89.8,308.1 L90.3,310.0 L90.8,308.7 L91.3,310.2 L91.8,309.3 L92.3,310.5 L92.8,309.2 L93.3,309.2 L93.8,309.0 L94.3,309.9 L94.8,310.5 L95.3,308.2 L95.8,305.5 L96.3,303.3 L96.8,301.3 L97.3,299.6 L97.8,298.0 L98.3,296.6 L98.8,295.3 L99.3,294.2 L99.8,293.1 L100.3,292.1 L100.8,291.2 L101.3,290.4 L101.8,289.6 L102.3,288.9 L102.8,288.2 L103.3,287.6 L103.8,287.0 L104.3,286.5 L104.8,286.0 L105.3,285.6 L105.8,285.2 L106.3,284.9 L106.8,284.6 L107.3,284.3 L107.8,284.1 L108.3,283.9 L108.8,283.8 L109.3,283.7 L109.8,283.7 L110.3,283.7 L110.8,283.7 L111.3,283.8 L111.8,284.0 L112.3,284.2 L112.8,284.5 L113.3,284.8 L113.8,285.2 L114.3,285.8 L114.8,286.4 L115.3,287.1 L115.8,287.9 L116.3,288.9 L116.8,290.1 L117.3,291.5 L117.8,293.2 L118.3,295.3 L118.8,298.0 L119.3,301.7 L119.8,307.2 L120.3,310.9 L120.8,308.9 L121.3,310.2 L121.8,303.5 L122.3,298.4 L122.8,294.6 L123.3,291.6 L123.8,289.1 L124.3,287.0 L124.8,285.2 L125.3,283.5 L125.8,282.1 L126.3,280.8 L126.8,279.6 L127.3,278.5 L127.8,277.5 L128.3,276.5 L128.8,275.7 L129.3,274.9 L129.8,274.2 L130.3,273.5 L130.8,272.9 L131.3,272.4 L131.8,271.9 L132.3,271.5 L132.8,271.1 L133.3,270.7 L133.8,270.4 L134.3,270.2 L134.8,269.9 L135.3,269.8 L135.8,269.7 L136.3,269.6 L136.8,269.6 L137.3,269.6 L137.8,269.7 L138.3,269.8 L138.8,270.0 L139.3,270.2 L139.8,270.5 L140.3,270.9 L140.8,271.4 L141.3,271.9 L141.8,272.5 L142.3,273.2 L142.8,274.0 L143.3,275.0 L143.8,276.1 L144.3,277.3 L144.8,278.8 L145.3,280.5 L145.8,282.6 L146.3,285.2 L146.8,288.4 L147.3,292.9 L147.8,299.9 L148.3,308.9 L148.8,309.5 L149.3,298.1 L149.8,291.9 L150.3,287.7 L150.8,284.6 L151.3,282.2 L151.8,280.2 L152.3,278.5 L152.8,277.1 L153.3,275.8 L153.8,274.8 L154.3,273.9 L154.8,273.1 L155.3,272.4 L155.8,271.8 L156.3,271.3 L156.8,270.8 L157.3,270.5 L157.8,270.2 L158.3,269.9 L158.8,269.8 L159.3,269.7 L159.8,269.6 L160.3,269.6 L160.8,269.6 L161.3,269.7 L161.8,269.8 L162.3,270.0 L162.8,270.2 L163.3,270.5 L163.8,270.8 L164.3,271.1 L164.8,271.5 L165.3,272.0 L165.8,272.5 L166.3,273.1 L166.8,273.7 L167.3,274.3 L167.8,275.1 L168.3,275.9 L168.8,276.7 L169.3,277.7 L169.8,278.7 L170.3,279.8 L170.8,281.0 L171.3,282.4 L171.8,283.9 L172.3,285.5 L172.8,287.4 L173.3,289.6 L173.8,292.2 L174.3,295.3 L174.8,299.2 L175.3,304.8 L175.8,311.1 L176.3,309.5 L176.8,310.0 L177.3,305.8 L177.8,300.9 L178.3,297.4 L178.8,294.9 L179.3,292.8 L179.8,291.2 L180.3,289.8 L180.8,288.7 L181.3,287.7 L181.8,286.9 L182.3,286.2 L182.8,285.6 L183.3,285.2 L183.8,284.7 L184.3,284.4 L184.8,284.1 L185.3,283.9 L185.8,283.8 L186.3,283.7 L186.8,283.6 L187.3,283.7 L187.8,283.7 L188.3,283.8 L188.8,283.9 L189.3,284.1 L189.8,284.4 L190.3,284.6 L190.8,284.9 L191.3,285.3 L191.8,285.7 L192.3,286.1 L192.8,286.6 L193.3,287.1 L193.8,287.7 L194.3,288.3 L194.8,289.0 L195.3,289.7 L195.8,290.5 L196.3,291.4 L196.8,292.3 L197.3,293.3 L197.8,294.4 L198.3,295.6 L198.8,296.9 L199.3,298.3 L199.8,299.9 L200.3,301.7 L200.8,303.7 L201.3,306.0 L201.8,308.8 L202.3,308.7 L202.8,310.0 L203.3,309.0 L203.8,310.9 L204.3,310.1 L204.8,310.6 L205.3,308.9 L205.8,309.7 L206.3,310.6 L206.8,309.6 L207.3,307.8 L207.8,306.3 L208.3,305.0 L208.8,303.9 L209.3,303.0 L209.8,302.3 L210.3,301.6 L210.8,301.1 L211.3,300.7 L211.8,300.3 L212.3,300.0 L212.8,299.7 L213.3,299.6 L213.8,299.4 L214.3,299.4 L214.8,299.4 L215.3,299.4 L215.8,299.5 L216.3,299.6 L216.8,299.7 L217.3,299.9 L217.8,300.2 L218.3,300.5 L218.8,300.8 L219.3,301.2 L219.8,301.6 L220.3,302.0 L220.8,302.5 L221.3,303.1 L221.8,303.7 L222.3,304.3 L222.8,305.0 L223.3,305.8 L223.8,306.6 L224.3,307.5 L224.8,308.4 L225.3,309.5 L225.8,309.1 L226.3,310.5 L226.8,309.2 L227.3,310.3 L227.8,309.5 L228.3,309.4 L228.8,308.8 L229.3,308.9 L229.8,310.0 L230.3,309.4 L230.8,310.6 L231.3,310.9 L231.8,309.3 L232.3,308.8 L232.8,309.2 L233.3,309.8 L233.8,309.5 L234.3,309.3 L234.8,309.7 L235.3,310.2 L235.8,309.0 L236.3,310.2 L236.8,308.8 L237.3,309.1 L237.8,309.1 L238.3,309.0 L238.8,308.6 L239.3,308.6 L239.8,309.8 L240.3,310.2 L240.8,309.3 L241.3,308.7 L241.8,304.2 L242.3,311.0 L242.8,311.0 L243.3,304.5 L243.8,309.1 L244.3,303.3 L244.8,310.2 L245.3,309.8 L245.8,309.8 L246.3,310.9 L246.8,311.1 L247.3,309.8 L247.8,306.9 L248.3,308.9 L248.8,310.6 L249.3,309.0 L249.8,310.4 L250.3,309.8 L250.8,309.3 L251.3,310.7 L251.8,308.7 L252.3,308.7 L252.8,308.7 L253.3,311.1 L253.8,309.5 L254.3,304.1 L254.8,308.9 L255.3,305.2 L255.8,310.8 L256.3,305.3 L256.8,310.4 L257.3,310.9 L257.8,310.9 L258.3,309.5 L258.8,309.8 L259.3,309.2 L259.8,309.1 L260.3,311.1 L260.8,308.8 L261.3,308.9 L261.8,308.8 L262.3,303.7 L262.8,310.1 L263.3,305.6 L263.8,308.8 L264.3,310.0 L264.8,309.9 L265.3,309.4 L265.8,309.4 L266.3,309.4 L266.8,309.5 L267.3,309.8 L267.8,309.2 L268.3,310.1 L268.8,310.4 L269.3,308.8 L269.3,314.3 L37.8,314.3Z" fill="#3d4fa6" stroke="none" stroke-width="1" />
<line x1="148.5" y1="314.3" x2="148.5" y2="234.5" stroke="#3d4fa6" stroke-width="1" />
<line x1="224.6" y1="314.3" x2="224.6" y2="295" stroke="#3d4fa6" stroke-width="1" />
<line x1="236" y1="314.3" x2="236" y2="298" stroke="#3d4fa6" stroke-width="1" />
<path d="M145.5,314.3 C146,302 147.2,294 148.4,294 C149.6,294 150.8,302 151.3,314.3 Z" fill="#fff" stroke="none" stroke-width="1" />
<line x1="37.3" y1="313.8" x2="269.9" y2="313.8" stroke="#3d4fa6" stroke-width="1.2" />
<path d="M36.3,439.0 L36.8,439.3 L37.3,440.5 L37.8,440.2 L38.3,439.7 L38.8,438.9 L39.3,440.6 L39.8,440.2 L40.3,441.0 L40.8,441.2 L41.3,440.6 L41.8,439.2 L42.3,439.5 L42.8,440.0 L43.3,440.2 L43.8,440.5 L44.3,439.3 L44.8,440.0 L45.3,441.0 L45.8,439.6 L46.3,438.7 L46.8,441.0 L47.3,438.7 L47.8,441.0 L48.3,436.1 L48.8,438.8 L49.3,438.8 L49.8,440.7 L50.3,439.4 L50.8,439.7 L51.3,440.2 L51.8,439.2 L52.3,439.6 L52.8,440.6 L53.3,440.0 L53.8,439.4 L54.3,439.6 L54.8,439.8 L55.3,439.4 L55.8,440.9 L56.3,441.1 L56.8,441.1 L57.3,439.6 L57.8,435.6 L58.3,439.1 L58.8,438.8 L59.3,440.9 L59.8,440.3 L60.3,440.2 L60.8,439.8 L61.3,438.9 L61.8,438.1 L62.3,439.1 L62.8,433.5 L63.3,438.4 L63.8,438.1 L64.3,437.7 L64.8,438.1 L65.3,437.7 L65.8,437.7 L66.3,437.7 L66.8,436.4 L67.3,437.0 L67.8,436.5 L68.3,436.0 L68.8,436.2 L69.3,435.4 L69.8,434.5 L70.3,434.3 L70.8,434.3 L71.3,434.5 L71.8,434.0 L72.3,433.9 L72.8,432.8 L73.3,432.8 L73.8,432.9 L74.3,432.8 L74.8,432.2 L75.3,431.6 L75.8,431.5 L76.3,431.8 L76.8,431.5 L77.3,430.6 L77.8,431.2 L78.3,429.7 L78.8,429.7 L79.3,429.7 L79.8,429.9 L80.3,429.3 L80.8,429.2 L81.3,429.3 L81.8,428.2 L82.3,427.7 L82.8,427.7 L83.3,427.7 L83.8,426.8 L84.3,426.4 L84.8,427.0 L85.3,427.1 L85.8,426.7 L86.3,425.8 L86.8,425.6 L87.3,425.8 L87.8,425.7 L88.3,424.6 L88.8,425.1 L89.3,424.5 L89.8,423.5 L90.3,423.6 L90.8,422.8 L91.3,423.0 L91.8,422.9 L92.3,423.0 L92.8,422.1 L93.3,422.3 L93.8,422.0 L94.3,421.6 L94.8,421.4 L95.3,420.9 L95.8,420.9 L96.3,420.4 L96.8,420.7 L97.3,419.4 L97.8,420.1 L98.3,419.7 L98.8,418.5 L99.3,419.1 L99.8,418.4 L100.3,418.3 L100.8,418.0 L101.3,418.1 L101.8,417.5 L102.3,417.4 L102.8,416.6 L103.3,416.1 L103.8,416.6 L104.3,416.8 L104.8,415.4 L105.3,416.2 L105.8,415.2 L106.3,415.3 L106.8,414.6 L107.3,414.9 L107.8,414.3 L108.3,414.5 L108.8,413.5 L109.3,413.4 L109.8,413.5 L110.3,412.6 L110.8,413.4 L111.3,412.7 L111.8,412.9 L112.3,411.7 L112.8,412.1 L113.3,411.2 L113.8,410.8 L114.3,411.0 L114.8,410.8 L115.3,410.7 L115.8,410.3 L116.3,409.7 L116.8,410.1 L117.3,409.4 L117.8,409.2 L118.3,409.6 L118.8,409.2 L119.3,409.0 L119.8,409.1 L120.3,408.8 L120.8,407.7 L121.3,408.5 L121.8,407.7 L122.3,407.5 L122.8,406.9 L123.3,406.9 L123.8,406.9 L124.3,406.0 L124.8,406.7 L125.3,406.0 L125.8,406.2 L126.3,406.1 L126.8,405.8 L127.3,404.9 L127.8,405.3 L128.3,404.9 L128.8,405.2 L129.3,405.0 L129.8,404.5 L130.3,404.7 L130.8,403.7 L131.3,404.5 L131.8,404.5 L132.3,404.3 L132.8,404.0 L133.3,403.3 L133.8,403.9 L134.3,403.2 L134.8,402.7 L135.3,403.0 L135.8,403.2 L136.3,402.9 L136.8,403.0 L137.3,401.8 L137.8,402.9 L138.3,402.8 L138.8,402.1 L139.3,402.6 L139.8,401.6 L140.3,401.7 L140.8,401.4 L141.3,402.0 L141.8,402.2 L142.3,402.2 L142.8,401.0 L143.3,401.9 L143.8,401.6 L144.3,401.1 L144.8,401.9 L145.3,401.4 L145.8,400.8 L146.3,401.2 L146.8,401.6 L147.3,401.8 L147.8,401.0 L148.3,401.5 L148.8,400.8 L149.3,401.9 L149.8,400.8 L150.3,402.1 L150.8,401.6 L151.3,401.9 L151.8,401.8 L152.3,401.6 L152.8,401.6 L153.3,401.4 L153.8,401.5 L154.3,401.4 L154.8,401.7 L155.3,402.3 L155.8,402.2 L156.3,402.3 L156.8,402.4 L157.3,403.0 L157.8,403.0 L158.3,402.4 L158.8,402.9 L159.3,403.5 L159.8,402.7 L160.3,403.4 L160.8,403.5 L161.3,403.7 L161.8,403.7 L162.3,404.0 L162.8,403.7 L163.3,404.6 L163.8,404.3 L164.3,404.2 L164.8,404.7 L165.3,404.9 L165.8,405.4 L166.3,405.2 L166.8,405.3 L167.3,405.2 L167.8,405.5 L168.3,405.5 L168.8,406.1 L169.3,406.7 L169.8,406.5 L170.3,406.2 L170.8,406.2 L171.3,407.5 L171.8,406.9 L172.3,407.7 L172.8,408.2 L173.3,408.4 L173.8,408.1 L174.3,408.8 L174.8,408.4 L175.3,409.3 L175.8,409.2 L176.3,408.7 L176.8,409.8 L177.3,409.2 L177.8,410.5 L178.3,409.5 L178.8,410.7 L179.3,410.2 L179.8,410.9 L180.3,410.9 L180.8,411.8 L181.3,411.3 L181.8,412.1 L182.3,412.6 L182.8,411.8 L183.3,412.8 L183.8,412.3 L184.3,413.4 L184.8,413.8 L185.3,413.1 L185.8,414.3 L186.3,414.0 L186.8,414.1 L187.3,415.2 L187.8,414.7 L188.3,414.7 L188.8,415.2 L189.3,416.2 L189.8,416.5 L190.3,416.1 L190.8,416.4 L191.3,416.8 L191.8,417.4 L192.3,416.6 L192.8,417.9 L193.3,418.4 L193.8,417.9 L194.3,418.2 L194.8,419.2 L195.3,418.7 L195.8,418.9 L196.3,419.8 L196.8,419.6 L197.3,420.1 L197.8,419.9 L198.3,420.7 L198.8,420.5 L199.3,421.4 L199.8,421.2 L200.3,422.1 L200.8,421.9 L201.3,422.5 L201.8,422.3 L202.3,422.8 L202.8,422.6 L203.3,423.3 L203.8,423.6 L204.3,423.3 L204.8,424.0 L205.3,424.8 L205.8,424.1 L206.3,424.8 L206.8,425.5 L207.3,425.3 L207.8,425.0 L208.3,425.9 L208.8,426.1 L209.3,427.0 L209.8,427.0 L210.3,427.4 L210.8,427.1 L211.3,428.1 L211.8,428.3 L212.3,427.6 L212.8,428.6 L213.3,429.2 L213.8,429.1 L214.3,429.8 L214.8,429.2 L215.3,429.9 L215.8,430.1 L216.3,430.1 L216.8,431.0 L217.3,430.8 L217.8,431.4 L218.3,431.8 L218.8,432.0 L219.3,431.5 L219.8,431.7 L220.3,433.0 L220.8,433.0 L221.3,432.7 L221.8,432.9 L222.3,433.7 L222.8,433.5 L223.3,434.8 L223.8,434.2 L224.3,435.4 L224.8,435.4 L225.3,434.4 L225.8,435.9 L226.3,436.2 L226.8,435.9 L227.3,436.5 L227.8,436.2 L228.3,436.4 L228.8,437.9 L229.3,438.0 L229.8,438.2 L230.3,437.6 L230.8,438.6 L231.3,439.0 L231.8,438.9 L232.3,438.8 L232.8,439.8 L233.3,439.2 L233.8,439.9 L234.3,439.1 L234.8,440.6 L235.3,441.0 L235.8,441.0 L236.3,440.1 L236.8,440.3 L237.3,436.5 L237.8,438.7 L238.3,440.9 L238.8,439.1 L239.3,439.9 L239.8,439.1 L240.3,440.3 L240.8,439.3 L241.3,441.2 L241.8,440.0 L242.3,440.4 L242.8,440.6 L243.3,440.4 L243.8,440.2 L244.3,440.0 L244.8,439.9 L245.3,439.4 L245.8,439.1 L246.3,438.8 L246.8,436.0 L247.3,440.6 L247.8,439.8 L248.3,435.2 L248.8,440.6 L249.3,440.4 L249.8,440.6 L250.3,439.9 L250.8,441.0 L251.3,439.8 L251.8,440.2 L252.3,441.2 L252.8,440.5 L253.3,438.8 L253.8,439.8 L254.3,441.0 L254.8,439.8 L255.3,439.4 L255.8,440.9 L256.3,440.2 L256.8,434.9 L257.3,439.8 L257.8,439.1 L258.3,440.6 L258.8,440.9 L259.3,440.9 L259.8,439.7 L260.3,441.0 L260.8,439.9 L261.3,439.2 L261.8,439.3 L262.3,439.5 L262.8,441.2 L263.3,440.1 L263.8,438.9 L264.3,439.9 L264.8,440.8 L265.3,440.9 L265.8,438.8 L266.3,439.0 L266.8,441.0 L267.3,439.1 L267.8,441.0 L267.8,444.4 L36.3,444.4Z" fill="#3d4fa6" stroke="none" stroke-width="1" />
<line x1="147.3" y1="444.4" x2="147.3" y2="364.3" stroke="#3d4fa6" stroke-width="1" />
<line x1="234.5" y1="444.4" x2="234.5" y2="428.4" stroke="#3d4fa6" stroke-width="1" />
<line x1="197.8" y1="443.9" x2="197.8" y2="420" stroke="#fff" stroke-width="0.8" />
<path d="M144.2,444.4 C144.8,432 146,423.5 147.2,423.5 C148.4,423.5 149.6,432 150.2,444.4 Z" fill="#fff" stroke="none" stroke-width="1" />
<path d="M61.0,440.0 L61.5,439.8 L62.0,439.5 L62.5,439.2 L63.0,438.9 L63.5,438.6 L64.0,438.4 L64.5,438.1 L65.0,437.8 L65.5,437.5 L66.0,437.2 L66.5,437.0 L67.0,436.7 L67.5,436.4 L68.0,436.1 L68.5,435.8 L69.0,435.6 L69.5,435.3 L70.0,435.0 L70.5,434.7 L71.0,434.5 L71.5,434.2 L72.0,433.9 L72.5,433.6 L73.0,433.3 L73.5,433.1 L74.0,432.8 L74.5,432.5 L75.0,432.2 L75.5,431.9 L76.0,431.7 L76.5,431.4 L77.0,431.1 L77.5,430.8 L78.0,430.6 L78.5,430.3 L79.0,430.0 L79.5,429.7 L80.0,429.4 L80.5,429.2 L81.0,428.9 L81.5,428.6 L82.0,428.3 L82.5,428.1 L83.0,427.8 L83.5,427.5 L84.0,427.2 L84.5,427.0 L85.0,426.7 L85.5,426.4 L86.0,426.1 L86.5,425.9 L87.0,425.6 L87.5,425.3 L88.0,425.0 L88.5,424.8 L89.0,424.5 L89.5,424.2 L90.0,423.9 L90.5,423.7 L91.0,423.4 L91.5,423.1 L92.0,422.8 L92.5,422.6 L93.0,422.3 L93.5,422.0 L94.0,421.7 L94.5,421.5 L95.0,421.2 L95.5,420.9 L96.0,420.7 L96.5,420.4 L97.0,420.1 L97.5,419.8 L98.0,419.6 L98.5,419.3 L99.0,419.0 L99.5,418.8 L100.0,418.5 L100.5,418.2 L101.0,418.0 L101.5,417.7 L102.0,417.4 L102.5,417.2 L103.0,416.9 L103.5,416.6 L104.0,416.4 L104.5,416.1 L105.0,415.9 L105.5,415.6 L106.0,415.3 L106.5,415.1 L107.0,414.8 L107.5,414.6 L108.0,414.3 L108.5,414.0 L109.0,413.8 L109.5,413.5 L110.0,413.3 L110.5,413.0 L111.0,412.8 L111.5,412.5 L112.0,412.3 L112.5,412.0 L113.0,411.8 L113.5,411.5 L114.0,411.3 L114.5,411.0 L115.0,410.8 L115.5,410.6 L116.0,410.3 L116.5,410.1 L117.0,409.9 L117.5,409.6 L118.0,409.4 L118.5,409.2 L119.0,408.9 L119.5,408.7 L120.0,408.5 L120.5,408.3 L121.0,408.0 L121.5,407.8 L122.0,407.6 L122.5,407.4 L123.0,407.2 L123.5,407.0 L124.0,406.8 L124.5,406.6 L125.0,406.4 L125.5,406.2 L126.0,406.0 L126.5,405.8 L127.0,405.6 L127.5,405.4 L128.0,405.2 L128.5,405.0 L129.0,404.9 L129.5,404.7 L130.0,404.5 L130.5,404.3 L131.0,404.2 L131.5,404.0 L132.0,403.9 L132.5,403.7 L133.0,403.6 L133.5,403.4 L134.0,403.3 L134.5,403.2 L135.0,403.0 L135.5,402.9 L136.0,402.8 L136.5,402.7 L137.0,402.6 L137.5,402.4 L138.0,402.3 L138.5,402.2 L139.0,402.2 L139.5,402.1 L140.0,402.0 L140.5,401.9 L141.0,401.8 L141.5,401.8 L142.0,401.7 L142.5,401.7 L143.0,401.6 L143.5,401.6 L144.0,401.5 L144.5,401.5 L145.0,401.5 L145.5,401.4 L146.0,401.4 L146.5,401.4 L147.0,401.4 L147.5,401.4 L148.0,401.4 L148.5,401.4 L149.0,401.4 L149.5,401.5 L150.0,401.5 L150.5,401.5 L151.0,401.6 L151.5,401.6 L152.0,401.6 L152.5,401.7 L153.0,401.8 L153.5,401.8 L154.0,401.9 L154.5,402.0 L155.0,402.1 L155.5,402.1 L156.0,402.2 L156.5,402.3 L157.0,402.4 L157.5,402.5 L158.0,402.6 L158.5,402.8 L159.0,402.9 L159.5,403.0 L160.0,403.1 L160.5,403.3 L161.0,403.4 L161.5,403.5 L162.0,403.7 L162.5,403.8 L163.0,404.0 L163.5,404.2 L164.0,404.3 L164.5,404.5 L165.0,404.6 L165.5,404.8 L166.0,405.0 L166.5,405.2 L167.0,405.4 L167.5,405.5 L168.0,405.7 L168.5,405.9 L169.0,406.1 L169.5,406.3 L170.0,406.5 L170.5,406.7 L171.0,406.9 L171.5,407.1 L172.0,407.3 L172.5,407.6 L173.0,407.8 L173.5,408.0 L174.0,408.2 L174.5,408.4 L175.0,408.7 L175.5,408.9 L176.0,409.1 L176.5,409.3 L177.0,409.6 L177.5,409.8 L178.0,410.0 L178.5,410.3 L179.0,410.5 L179.5,410.8 L180.0,411.0 L180.5,411.2 L181.0,411.5 L181.5,411.7 L182.0,412.0 L182.5,412.2 L183.0,412.5 L183.5,412.7 L184.0,413.0 L184.5,413.2 L185.0,413.5 L185.5,413.7 L186.0,414.0 L186.5,414.2 L187.0,414.5 L187.5,414.8 L188.0,415.0 L188.5,415.3 L189.0,415.5 L189.5,415.8 L190.0,416.1 L190.5,416.3 L191.0,416.6 L191.5,416.8 L192.0,417.1 L192.5,417.4 L193.0,417.6 L193.5,417.9 L194.0,418.2 L194.5,418.4 L195.0,418.7 L195.5,419.0 L196.0,419.2 L196.5,419.5 L197.0,419.8 L197.5,420.1 L198.0,420.3 L198.5,420.6 L199.0,420.9 L199.5,421.1 L200.0,421.4 L200.5,421.7 L201.0,422.0 L201.5,422.2 L202.0,422.5 L202.5,422.8 L203.0,423.0 L203.5,423.3 L204.0,423.6 L204.5,423.9 L205.0,424.1 L205.5,424.4 L206.0,424.7 L206.5,425.0 L207.0,425.2 L207.5,425.5 L208.0,425.8 L208.5,426.1 L209.0,426.3 L209.5,426.6 L210.0,426.9 L210.5,427.2 L211.0,427.5 L211.5,427.7 L212.0,428.0 L212.5,428.3 L213.0,428.6 L213.5,428.8 L214.0,429.1 L214.5,429.4 L215.0,429.7 L215.5,429.9 L216.0,430.2 L216.5,430.5 L217.0,430.8 L217.5,431.1 L218.0,431.3 L218.5,431.6 L219.0,431.9 L219.5,432.2 L220.0,432.4 L220.5,432.7 L221.0,433.0 L221.5,433.3 L222.0,433.6 L222.5,433.8 L223.0,434.1 L223.5,434.4 L224.0,434.7 L224.5,435.0 L225.0,435.2 L225.5,435.5 L226.0,435.8 L226.5,436.1 L227.0,436.4 L227.5,436.6 L228.0,436.9 L228.5,437.2 L229.0,437.5 L229.5,437.7 L230.0,438.0 L230.5,438.3 L231.0,438.6 L231.5,438.9 L232.0,439.1 L232.5,439.4 L233.0,439.7 L233.5,440.0 L234.0,440.3 L234.5,440.5 L235.0,440.8 L235.5,441.1 L236.0,441.4 L236.5,441.7 L237.0,441.9 L237.5,442.2" fill="none" stroke="#d8404a" stroke-width="1.1" stroke-dasharray="5,1.5"/>
<text x="100.9" y="424.8" font-size="8.5" fill="#d8404a" >-sech<tspan font-size="5.5" dy="-3.5">2</tspan><tspan dy="3.5">,</tspan></text>
<text x="89.7" y="434.5" font-size="8.5" fill="#d8404a" textLength="58" lengthAdjust="spacingAndGlyphs" >FWHM = 1.6 THz</text>
<line x1="35.8" y1="443.9" x2="268.6" y2="443.9" stroke="#3d4fa6" stroke-width="1.2" />
<rect x="214" y="227.1" width="48.7" height="46.3" fill="#fff" stroke="#555" stroke-width="0.9" rx="0" />
<line x1="211.5" y1="238.7" x2="214" y2="238.7" stroke="#666" stroke-width="0.7" />
<line x1="211.5" y1="250" x2="214" y2="250" stroke="#666" stroke-width="0.7" />
<line x1="211.5" y1="262.4" x2="214" y2="262.4" stroke="#666" stroke-width="0.7" />
<text x="220.5" y="282.5" font-size="7.5" fill="#474747" text-anchor="middle" textLength="13.5" lengthAdjust="spacingAndGlyphs" >−100</text>
<text x="238.2" y="282.5" font-size="7.5" fill="#474747" text-anchor="middle" >0</text>
<text x="254.8" y="282.5" font-size="7.5" fill="#474747" text-anchor="middle" textLength="9.6" lengthAdjust="spacingAndGlyphs" >100</text>
<text x="238.2" y="289.9" font-size="7.5" fill="#474747" text-anchor="middle" textLength="42.5" lengthAdjust="spacingAndGlyphs" >kHz + 35.2 GHz</text>
<text x="243" y="243.7" font-size="7.5" fill="#474747" textLength="12" lengthAdjust="spacingAndGlyphs" >RBW</text>
<text x="243" y="250.8" font-size="7.5" fill="#474747" textLength="13" lengthAdjust="spacingAndGlyphs" >1 kHz</text>
<text x="202" y="251" font-size="7" fill="#474747" text-anchor="middle" textLength="41" lengthAdjust="spacingAndGlyphs" transform="rotate(-90 202 251)" >Power 10 dB per</text>
<text x="208.6" y="251" font-size="7" fill="#474747" text-anchor="middle" textLength="38.5" lengthAdjust="spacingAndGlyphs" transform="rotate(-90 208.6 251)" >division (a.u.)</text>
<rect x="212.9" y="357.1" width="49" height="46.3" fill="#fff" stroke="#555" stroke-width="0.9" rx="0" />
<line x1="210.4" y1="368.7" x2="212.9" y2="368.7" stroke="#666" stroke-width="0.7" />
<line x1="210.4" y1="380.2" x2="212.9" y2="380.2" stroke="#666" stroke-width="0.7" />
<line x1="210.4" y1="391.8" x2="212.9" y2="391.8" stroke="#666" stroke-width="0.7" />
<text x="218.5" y="411.3" font-size="7.5" fill="#474747" text-anchor="middle" textLength="13.5" lengthAdjust="spacingAndGlyphs" >−100</text>
<text x="236.6" y="411.3" font-size="7.5" fill="#474747" text-anchor="middle" >0</text>
<text x="254" y="411.3" font-size="7.5" fill="#474747" text-anchor="middle" textLength="9.6" lengthAdjust="spacingAndGlyphs" >100</text>
<text x="237" y="418.8" font-size="7.5" fill="#474747" text-anchor="middle" textLength="42.5" lengthAdjust="spacingAndGlyphs" >kHz + 35.2 GHz</text>
<text x="240.6" y="376.9" font-size="7.5" fill="#474747" textLength="12" lengthAdjust="spacingAndGlyphs" >RBW</text>
<text x="240.6" y="384.8" font-size="7.5" fill="#474747" textLength="13" lengthAdjust="spacingAndGlyphs" >1 kHz</text>
<text x="200.5" y="380.5" font-size="7" fill="#474747" text-anchor="middle" textLength="41" lengthAdjust="spacingAndGlyphs" transform="rotate(-90 200.5 380.5)" >Power 20 dB per</text>
<text x="207.3" y="380.5" font-size="7" fill="#474747" text-anchor="middle" textLength="38.5" lengthAdjust="spacingAndGlyphs" transform="rotate(-90 207.3 380.5)" >division (a.u.)</text>
<path d="M214.8,265.9 L215.4,271.8 L216.0,268.9 L216.6,269.8 L217.2,263.8 L217.8,270.0 L218.4,269.8 L219.0,269.2 L219.6,270.7 L220.2,269.0 L220.8,266.8 L221.4,271.3 L222.0,272.1 L222.6,272.1 L223.2,270.1 L223.8,271.7 L224.4,272.4 L225.0,271.3 L225.6,271.4 L226.2,271.0 L226.8,271.2 L227.4,270.3 L228.0,271.8 L228.6,271.6 L229.2,271.1 L229.8,271.0 L230.4,271.5 L231.0,270.3 L231.6,270.2 L232.2,271.6 L232.8,272.1 L233.4,272.3 L234.0,272.1 L234.6,271.4 L235.2,263.4 L235.8,272.1 L236.4,272.1 L237.0,271.1 L237.6,271.9 L238.2,272.1 L238.8,270.1 L239.4,271.4 L240.0,272.1 L240.6,269.6 L241.2,271.0 L241.8,269.7 L242.4,269.9 L243.0,272.3 L243.6,271.5 L244.2,271.1 L244.8,266.7 L245.4,271.4 L246.0,272.4 L246.6,271.8 L247.2,271.9 L247.8,269.9 L248.4,272.0 L249.0,270.8 L249.6,271.0 L250.2,268.4 L250.8,271.6 L251.4,272.1 L252.0,269.0 L252.6,271.4 L253.2,263.4 L253.8,271.9 L254.4,264.9 L255.0,271.6 L255.6,270.8 L256.2,269.3 L256.8,272.1 L257.4,272.1 L258.0,272.0 L258.6,270.6 L259.2,266.5 L259.8,271.5 L260.4,272.3 L261.0,272.4 L261.6,272.3 L262.2,272.9 L214.8,272.9Z" fill="#cc3535" stroke="#cc3535" stroke-width="0.5" />
<line x1="238.2" y1="273.4" x2="238.2" y2="229.8" stroke="#cc3535" stroke-width="1.1" />
<path d="M213.7,400.8 L214.1,401.2 L214.5,401.6 L214.9,401.5 L215.3,400.6 L215.7,403.1 L216.1,400.9 L216.5,402.1 L216.9,401.6 L217.3,402.6 L217.7,399.2 L218.1,403.4 L218.5,401.2 L218.9,400.1 L219.3,401.5 L219.7,403.6 L220.1,401.9 L220.5,400.1 L220.9,400.9 L221.3,402.7 L221.7,400.0 L222.1,401.2 L222.5,401.1 L222.9,403.5 L223.3,401.1 L223.7,402.6 L224.1,400.4 L224.5,400.1 L224.9,401.6 L225.3,400.9 L225.7,398.3 L226.1,400.3 L226.5,399.9 L226.9,398.3 L227.3,398.8 L227.7,398.5 L228.1,397.4 L228.5,396.9 L228.9,396.4 L229.3,396.5 L229.7,395.0 L230.1,395.9 L230.5,394.0 L230.9,395.2 L231.3,394.6 L231.7,393.3 L232.1,394.7 L232.5,395.4 L232.9,394.3 L233.3,391.2 L233.7,393.4 L234.1,391.9 L234.5,391.2 L234.9,390.2 L235.3,390.3 L235.7,391.3 L236.1,390.0 L236.5,388.6 L236.9,388.5 L237.3,389.3 L237.7,390.7 L238.1,392.4 L238.5,390.0 L238.9,391.5 L239.3,391.5 L239.7,391.6 L240.1,393.2 L240.5,393.8 L240.9,392.2 L241.3,393.0 L241.7,395.7 L242.1,395.2 L242.5,395.8 L242.9,395.2 L243.3,395.7 L243.7,397.0 L244.1,396.4 L244.5,396.2 L244.9,397.7 L245.3,398.9 L245.7,397.4 L246.1,399.8 L246.5,399.8 L246.9,398.6 L247.3,399.8 L247.7,400.1 L248.1,401.1 L248.5,401.4 L248.9,399.7 L249.3,399.9 L249.7,402.4 L250.1,401.5 L250.5,401.8 L250.9,401.7 L251.3,402.9 L251.7,400.2 L252.1,402.4 L252.5,400.6 L252.9,402.1 L253.3,402.7 L253.7,400.0 L254.1,401.8 L254.5,401.1 L254.9,401.1 L255.3,401.4 L255.7,400.3 L256.1,400.4 L256.5,402.0 L256.9,402.2 L257.3,400.8 L257.7,399.9 L258.1,403.7 L258.5,402.5 L258.9,401.7 L259.3,400.3 L259.7,400.8 L260.1,401.6 L260.5,400.4 L260.9,402.9 L261.3,401.5" fill="none" stroke="#cc3535" stroke-width="1.2" />
<line x1="236.6" y1="389.4" x2="236.6" y2="366.6" stroke="#cc3535" stroke-width="1.1" />
<text x="278.5" y="225.2" font-size="11" fill="#111" font-weight="bold" textLength="13" lengthAdjust="spacingAndGlyphs" >(e)</text>
<rect x="312" y="221.9" width="232.6" height="91.8" fill="#2c306c" stroke="none" stroke-width="1" rx="0" />
<line x1="308" y1="241.2" x2="312" y2="241.2" stroke="#999" stroke-width="0.8" />
<text x="305.5" y="244.2" font-size="8.5" fill="#444" text-anchor="end" >2</text>
<line x1="308" y1="267.8" x2="312" y2="267.8" stroke="#999" stroke-width="0.8" />
<text x="305.5" y="270.8" font-size="8.5" fill="#444" text-anchor="end" >0</text>
<line x1="308" y1="294.4" x2="312" y2="294.4" stroke="#999" stroke-width="0.8" />
<text x="305.5" y="297.4" font-size="8.5" fill="#444" text-anchor="end" >−2</text>
<line x1="333.7" y1="313.7" x2="333.7" y2="317.2" stroke="#999" stroke-width="0.8" />
<text x="333.7" y="327.2" font-size="8.5" fill="#444" text-anchor="middle" >−20</text>
<line x1="372.8" y1="313.7" x2="372.8" y2="317.2" stroke="#999" stroke-width="0.8" />
<text x="372.8" y="327.2" font-size="8.5" fill="#444" text-anchor="middle" >0</text>
<line x1="411.9" y1="313.7" x2="411.9" y2="317.2" stroke="#999" stroke-width="0.8" />
<text x="411.9" y="327.2" font-size="8.5" fill="#444" text-anchor="middle" >20</text>
<line x1="451" y1="313.7" x2="451" y2="317.2" stroke="#999" stroke-width="0.8" />
<text x="451" y="327.2" font-size="8.5" fill="#444" text-anchor="middle" >40</text>
<line x1="490.1" y1="313.7" x2="490.1" y2="317.2" stroke="#999" stroke-width="0.8" />
<text x="490.1" y="327.2" font-size="8.5" fill="#444" text-anchor="middle" >60</text>
<line x1="529.2" y1="313.7" x2="529.2" y2="317.2" stroke="#999" stroke-width="0.8" />
<text x="529.2" y="327.2" font-size="8.5" fill="#444" text-anchor="middle" >80</text>
<text x="290.5" y="270.8" font-size="8.3" fill="#474747" text-anchor="middle" textLength="73.5" lengthAdjust="spacingAndGlyphs" transform="rotate(-90 290.5 270.8)" >ω<tspan font-size="5.5" dy="2">SHG</tspan><tspan dy="-2">/2π − 386 (THz)</tspan></text>
<text x="323.4" y="235.6" font-size="8.5" fill="#f2f2f8" textLength="43" lengthAdjust="spacingAndGlyphs" >Two solitons</text>
<ellipse cx="317.3" cy="268.8" rx="1.5" ry="30" fill="url(#sb)" filter="url(#bl)"/>
<ellipse cx="345.0" cy="268.8" rx="1.5" ry="30" fill="url(#sr)" filter="url(#bl)"/>
<ellipse cx="372.8" cy="268.8" rx="1.5" ry="30" fill="url(#sb)" filter="url(#bl)"/>
<ellipse cx="400.6" cy="268.8" rx="1.5" ry="30" fill="url(#sr)" filter="url(#bl)"/>
<ellipse cx="428.3" cy="268.8" rx="1.5" ry="30" fill="url(#sb)" filter="url(#bl)"/>
<ellipse cx="456.1" cy="268.8" rx="1.5" ry="30" fill="url(#sr)" filter="url(#bl)"/>
<ellipse cx="483.8" cy="268.8" rx="1.5" ry="30" fill="url(#sb)" filter="url(#bl)"/>
<ellipse cx="511.6" cy="268.8" rx="1.5" ry="30" fill="url(#sr)" filter="url(#bl)"/>
<ellipse cx="539.4" cy="268.8" rx="1.5" ry="30" fill="url(#sb)" filter="url(#bl)"/>
<rect x="312" y="351.3" width="232.6" height="92.9" fill="#2c306c" stroke="none" stroke-width="1" rx="0" />
<line x1="308" y1="371.1" x2="312" y2="371.1" stroke="#999" stroke-width="0.8" />
<text x="305.5" y="374.1" font-size="8.5" fill="#444" text-anchor="end" >2</text>
<line x1="308" y1="397.8" x2="312" y2="397.8" stroke="#999" stroke-width="0.8" />
<text x="305.5" y="400.8" font-size="8.5" fill="#444" text-anchor="end" >0</text>
<line x1="308" y1="424.4" x2="312" y2="424.4" stroke="#999" stroke-width="0.8" />
<text x="305.5" y="427.4" font-size="8.5" fill="#444" text-anchor="end" >−2</text>
<line x1="333.7" y1="444.2" x2="333.7" y2="447.7" stroke="#999" stroke-width="0.8" />
<text x="333.7" y="457.7" font-size="8.5" fill="#444" text-anchor="middle" >−20</text>
<line x1="372.8" y1="444.2" x2="372.8" y2="447.7" stroke="#999" stroke-width="0.8" />
<text x="372.8" y="457.7" font-size="8.5" fill="#444" text-anchor="middle" >0</text>
<line x1="411.9" y1="444.2" x2="411.9" y2="447.7" stroke="#999" stroke-width="0.8" />
<text x="411.9" y="457.7" font-size="8.5" fill="#444" text-anchor="middle" >20</text>
<line x1="451" y1="444.2" x2="451" y2="447.7" stroke="#999" stroke-width="0.8" />
<text x="451" y="457.7" font-size="8.5" fill="#444" text-anchor="middle" >40</text>
<line x1="490.1" y1="444.2" x2="490.1" y2="447.7" stroke="#999" stroke-width="0.8" />
<text x="490.1" y="457.7" font-size="8.5" fill="#444" text-anchor="middle" >60</text>
<line x1="529.2" y1="444.2" x2="529.2" y2="447.7" stroke="#999" stroke-width="0.8" />
<text x="529.2" y="457.7" font-size="8.5" fill="#444" text-anchor="middle" >80</text>
<text x="290.5" y="400.8" font-size="8.3" fill="#474747" text-anchor="middle" textLength="73.5" lengthAdjust="spacingAndGlyphs" transform="rotate(-90 290.5 400.8)" >ω<tspan font-size="5.5" dy="2">SHG</tspan><tspan dy="-2">/2π − 386 (THz)</tspan></text>
<text x="322.5" y="364.6" font-size="8.5" fill="#f2f2f8" textLength="38.3" lengthAdjust="spacingAndGlyphs" >One soliton</text>
<ellipse cx="317.3" cy="397.8" rx="1.5" ry="37" fill="url(#sb)" filter="url(#bl)"/>
<ellipse cx="372.8" cy="397.8" rx="1.5" ry="37" fill="url(#sb)" filter="url(#bl)"/>
<ellipse cx="428.3" cy="397.8" rx="1.5" ry="37" fill="url(#sb)" filter="url(#bl)"/>
<ellipse cx="483.8" cy="397.8" rx="1.5" ry="37" fill="url(#sb)" filter="url(#bl)"/>
<ellipse cx="539.4" cy="397.8" rx="1.5" ry="37" fill="url(#sb)" filter="url(#bl)"/>
<text x="430.5" y="470.8" font-size="8.5" fill="#444" text-anchor="middle" textLength="39" lengthAdjust="spacingAndGlyphs" >Delay (ps)</text>
<line x1="376" y1="395.6" x2="426" y2="395.6" stroke="#fff" stroke-width="0.9" />
<path d="M378.5,393.3 L374,395.6 L378.5,397.9 Z" fill="#fff" stroke="none" stroke-width="1" />
<path d="M423,393.3 L427.5,395.6 L423,397.9 Z" fill="#fff" stroke="none" stroke-width="1" />
<text x="400.5" y="393" font-size="8.5" fill="#fff" text-anchor="middle" textLength="25" lengthAdjust="spacingAndGlyphs" >28.4 ps</text>
<text x="400.8" y="405.7" font-size="8.5" fill="#fff" text-anchor="middle" textLength="53.5" lengthAdjust="spacingAndGlyphs" >Round-trip time</text>
<rect x="505.4" y="362.2" width="8" height="72.2" fill="url(#cb)" stroke="none" stroke-width="1" rx="0" />
<text x="519.2" y="365" font-size="8.5" fill="#fff" >1</text>
<text x="519.2" y="436.6" font-size="8.5" fill="#fff" >0</text>
<text x="529.7" y="399" font-size="8" fill="#fff" text-anchor="middle" textLength="59" lengthAdjust="spacingAndGlyphs" transform="rotate(90 529.7 399)" >SHG power (a.u.)</text>
<text x="552.3" y="225.2" font-size="11" fill="#111" font-weight="bold" textLength="10.7" lengthAdjust="spacingAndGlyphs" >(f)</text>
<rect x="575.5" y="222.8" width="89.8" height="91" fill="none" stroke="#aaa" stroke-width="1" rx="0" />
<line x1="571.5" y1="222.8" x2="575.5" y2="222.8" stroke="#aaa" stroke-width="1" />
<line x1="571.5" y1="313.8" x2="575.5" y2="313.8" stroke="#aaa" stroke-width="1" />
<line x1="665.3" y1="222.8" x2="669.3" y2="222.8" stroke="#aaa" stroke-width="1" />
<line x1="665.3" y1="313.8" x2="669.3" y2="313.8" stroke="#aaa" stroke-width="1" />
<text x="569" y="225.5" font-size="8.5" fill="#5aa85a" text-anchor="end" >1</text>
<text x="569" y="316.8" font-size="8.5" fill="#5aa85a" text-anchor="end" >0</text>
<text x="671" y="225.8" font-size="8.5" fill="#e8903c" textLength="9.5" lengthAdjust="spacingAndGlyphs" >2π</text>
<text x="671" y="316.8" font-size="8.5" fill="#e8903c" >0</text>
<text x="564.8" y="268" font-size="8.5" fill="#5aa85a" text-anchor="middle" textLength="44" lengthAdjust="spacingAndGlyphs" transform="rotate(-90 564.8 268)" >Power (a.u.)</text>
<text x="677.5" y="268" font-size="8.5" fill="#e8903c" text-anchor="middle" textLength="55" lengthAdjust="spacingAndGlyphs" transform="rotate(90 677.5 268)" >Phase (radians)</text>
<line x1="598" y1="313.8" x2="598" y2="310" stroke="#aaa" stroke-width="0.8" />
<text x="598" y="326.9" font-size="8.5" fill="#444" text-anchor="middle" >−1</text>
<line x1="620.2" y1="313.8" x2="620.2" y2="310" stroke="#aaa" stroke-width="0.8" />
<text x="620.2" y="326.9" font-size="8.5" fill="#444" text-anchor="middle" >0</text>
<line x1="642.4" y1="313.8" x2="642.4" y2="310" stroke="#aaa" stroke-width="0.8" />
<text x="642.4" y="326.9" font-size="8.5" fill="#444" text-anchor="middle" >1</text>
<text x="620.5" y="338.5" font-size="8.5" fill="#444" text-anchor="middle" textLength="35" lengthAdjust="spacingAndGlyphs" >Time (ps)</text>
<text x="577.7" y="232.6" font-size="7.5" fill="#333" textLength="42.7" lengthAdjust="spacingAndGlyphs" >Reconstructed</text>
<text x="577.7" y="240.7" font-size="7.5" fill="#5aa85a" textLength="18.2" lengthAdjust="spacingAndGlyphs" >Power</text>
<text x="577.7" y="249.2" font-size="7.5" fill="#e8903c" textLength="17.3" lengthAdjust="spacingAndGlyphs" >Phase</text>
<path d="M605.0,313.5 L605.4,313.5 L605.8,313.4 L606.2,313.4 L606.6,313.4 L607.0,313.4 L607.4,313.4 L607.8,313.4 L608.2,313.3 L608.6,313.3 L609.0,313.2 L609.4,313.2 L609.8,313.1 L610.2,313.0 L610.6,312.9 L611.0,312.8 L611.4,312.7 L611.8,312.5 L612.2,312.3 L612.6,312.0 L613.0,311.7 L613.4,311.3 L613.8,310.8 L614.2,310.2 L614.6,309.5 L615.0,308.6 L615.4,307.5 L615.8,306.3 L616.2,304.8 L616.6,302.9 L617.0,300.8 L617.4,298.2 L617.8,295.2 L618.2,291.7 L618.6,287.6 L619.0,283.0 L619.4,277.7 L619.8,271.9 L620.2,265.7 L620.6,259.0 L621.0,252.2 L621.4,245.5 L621.8,239.2 L622.2,233.7 L622.6,229.3 L623.0,226.4 L623.4,225.1 L623.8,225.5 L624.2,227.7 L624.6,231.4 L625.0,236.4 L625.4,242.3 L625.8,248.8 L626.2,255.6 L626.6,262.4 L627.0,268.9 L627.4,274.9 L627.8,280.4 L628.2,285.4 L628.6,289.7 L629.0,293.5 L629.4,296.8 L629.8,299.6 L630.2,301.9 L630.6,303.9 L631.0,305.6 L631.4,306.9 L631.8,308.1 L632.2,309.0 L632.6,309.8 L633.0,310.5 L633.4,311.0 L633.8,311.5 L634.2,311.8 L634.6,312.1 L635.0,312.4 L635.4,312.6 L635.8,312.7 L636.2,312.9 L636.6,313.0 L637.0,313.1 L637.4,313.2 L637.8,313.2 L638.2,313.3 L638.6,313.3 L639.0,313.3 L639.4,313.4 L639.8,313.4 L640.2,313.4 L640.6,313.4 L641.0,313.8 L605.0,313.8Z" fill="#3d9440" stroke="none" stroke-width="1" />
<path d="M605.0,313.5 L605.4,313.5 L605.8,313.4 L606.2,313.4 L606.6,313.4 L607.0,313.4 L607.4,313.4 L607.8,313.4 L608.2,313.3 L608.6,313.3 L609.0,313.2 L609.4,313.2 L609.8,313.1 L610.2,313.0 L610.6,312.9 L611.0,312.8 L611.4,312.7 L611.8,312.5 L612.2,312.3 L612.6,312.0 L613.0,311.7 L613.4,311.3 L613.8,310.8 L614.2,310.2 L614.6,309.5 L615.0,308.6 L615.4,307.5 L615.8,306.3 L616.2,304.8 L616.6,302.9 L617.0,300.8 L617.4,298.2 L617.8,295.2 L618.2,291.7 L618.6,287.6 L619.0,283.0 L619.4,277.7 L619.8,271.9 L620.2,265.7 L620.6,259.0 L621.0,252.2 L621.4,245.5 L621.8,239.2 L622.2,233.7 L622.6,229.3 L623.0,226.4 L623.4,225.1 L623.8,225.5 L624.2,227.7 L624.6,231.4 L625.0,236.4 L625.4,242.3 L625.8,248.8 L626.2,255.6 L626.6,262.4 L627.0,268.9 L627.4,274.9 L627.8,280.4 L628.2,285.4 L628.6,289.7 L629.0,293.5 L629.4,296.8 L629.8,299.6 L630.2,301.9 L630.6,303.9 L631.0,305.6 L631.4,306.9 L631.8,308.1 L632.2,309.0 L632.6,309.8 L633.0,310.5 L633.4,311.0 L633.8,311.5 L634.2,311.8 L634.6,312.1 L635.0,312.4 L635.4,312.6 L635.8,312.7 L636.2,312.9 L636.6,313.0 L637.0,313.1 L637.4,313.2 L637.8,313.2 L638.2,313.3 L638.6,313.3 L639.0,313.3 L639.4,313.4 L639.8,313.4 L640.2,313.4 L640.6,313.4" fill="none" stroke="#d8404a" stroke-width="0.9" stroke-dasharray="2.5,1.5"/>
<line x1="577" y1="313.3" x2="664" y2="313.3" stroke="#d8404a" stroke-width="0.8" stroke-dasharray="3,2" opacity="0.6"/>
<path d="M616.2,250.6 L616.5,255.2 L616.8,259.5 L617.1,263.6 L617.4,267.4 L617.7,271.0 L618.0,274.4 L618.3,277.5 L618.6,280.4 L618.9,283.0 L619.2,285.5 L619.5,287.8 L619.8,289.8 L620.1,291.6 L620.4,293.3 L620.7,294.8 L621.0,296.0 L621.3,297.1 L621.6,298.0 L621.9,298.8 L622.2,299.4 L622.5,299.8 L622.8,300.1 L623.1,300.2 L623.4,300.2 L623.7,300.0 L624.0,299.7 L624.3,299.3 L624.6,298.7 L624.9,298.1 L625.2,297.3 L625.5,296.4 L625.8,295.4 L626.1,294.3 L626.4,293.1 L626.7,291.8 L627.0,290.4 L627.3,289.0 L627.6,287.5 L627.9,285.9 L628.2,284.2 L628.5,282.5 L628.8,280.8 L629.1,278.9 L629.4,277.1 L629.7,275.2" fill="none" stroke="#e8903c" stroke-width="0.9" />
<text x="631" y="237.9" font-size="8.5" fill="#d8404a" >-sech<tspan font-size="5.5" dy="-3.5">2</tspan></text>
<text x="629.7" y="248.3" font-size="8.5" fill="#d8404a" textLength="26" lengthAdjust="spacingAndGlyphs" >FWHM</text>
<text x="629.7" y="258.4" font-size="8.5" fill="#d8404a" textLength="29.5" lengthAdjust="spacingAndGlyphs" >= 200 fs</text>
<rect x="575.5" y="351.3" width="90.3" height="91.9" fill="none" stroke="#777" stroke-width="0.9" rx="0" />
<line x1="571.5" y1="428.2" x2="575.5" y2="428.2" stroke="#777" stroke-width="0.8" />
<text x="569" y="431.2" font-size="8.5" fill="#444" text-anchor="end" >0</text>
<text x="557.8" y="398" font-size="8.5" fill="#444" text-anchor="middle" textLength="42.5" lengthAdjust="spacingAndGlyphs" transform="rotate(-90 557.8 398)" >Power (a.u.)</text>
<line x1="597.2" y1="443.2" x2="597.2" y2="439.5" stroke="#777" stroke-width="0.8" />
<text x="597.2" y="457.3" font-size="8.5" fill="#444" text-anchor="middle" >−10</text>
<line x1="619.9" y1="443.2" x2="619.9" y2="439.5" stroke="#777" stroke-width="0.8" />
<text x="619.9" y="457.3" font-size="8.5" fill="#444" text-anchor="middle" >0</text>
<line x1="642.6" y1="443.2" x2="642.6" y2="439.5" stroke="#777" stroke-width="0.8" />
<text x="642.6" y="457.3" font-size="8.5" fill="#444" text-anchor="middle" >10</text>
<text x="620.5" y="470.6" font-size="8.5" fill="#444" text-anchor="middle" textLength="35" lengthAdjust="spacingAndGlyphs" >Time (ps)</text>
<text x="620.6" y="365.8" font-size="8.5" fill="#444" text-anchor="middle" textLength="28" lengthAdjust="spacingAndGlyphs" >Frame 1</text>
<text x="620.3" y="386.6" font-size="8.5" fill="#333" text-anchor="middle" textLength="26" lengthAdjust="spacingAndGlyphs" >28.4 ps</text>
<text x="620.3" y="401.6" font-size="8.5" fill="#333" text-anchor="middle" textLength="55.5" lengthAdjust="spacingAndGlyphs" >Round-trip time</text>
<line x1="595" y1="389.5" x2="646" y2="389.5" stroke="#222" stroke-width="0.9" />
<path d="M596,387.3 L592,389.5 L596,391.7 Z" fill="#222" stroke="none" stroke-width="1" />
<path d="M645,387.3 L649,389.5 L645,391.7 Z" fill="#222" stroke="none" stroke-width="1" />
<path d="M575.8,432.0 L576.0,431.5 L576.4,430.8 L576.8,429.9 L577.1,429.3 L577.5,429.0 L577.8,429.2 L578.1,429.9 L578.4,430.6 L578.7,431.3 L579.0,431.5 L579.3,431.1 L579.6,430.3 L579.9,429.4 L580.2,428.7 L580.5,428.5 L580.8,428.9 L581.1,429.8 L581.4,430.9 L581.7,432.0 L582.0,433.0 L582.3,433.9 L582.6,434.9 L582.9,435.7 L583.2,436.3 L583.5,436.5 L583.8,436.4 L584.1,436.1 L584.4,435.4 L584.7,434.1 L585.0,432.0 L585.3,429.0 L585.6,425.3 L585.9,421.0 L586.2,415.9 L586.5,410.0 L586.8,401.8 L587.2,391.2 L587.5,380.8 L587.9,372.7 L588.2,369.5 L588.5,372.7 L588.9,380.7 L589.2,391.2 L589.5,401.7 L589.8,410.0 L590.1,416.0 L590.4,421.4 L590.7,426.0 L590.9,429.9 L591.2,433.0 L591.5,435.3 L591.7,436.8 L592.0,437.5 L592.2,437.6 L592.5,437.0 L592.8,435.2 L593.1,432.1 L593.4,428.6 L593.7,425.6 L594.0,424.0 L594.3,424.3 L594.6,425.9 L594.9,428.1 L595.2,430.0 L595.5,431.0 L595.8,430.6 L596.1,429.3 L596.4,427.7 L596.7,426.4 L597.0,426.0 L597.3,426.8 L597.6,428.5 L597.9,430.5 L598.2,432.2 L598.5,433.0 L598.8,432.6 L599.1,431.4 L599.4,429.9 L599.7,428.6 L600.0,428.0 L600.3,428.5 L600.6,429.7 L600.9,431.2 L601.2,432.4 L601.5,433.0 L601.8,432.7 L602.1,431.7 L602.4,430.5 L602.7,429.5 L603.0,429.0 L603.4,429.2 L603.8,429.9 L604.2,430.8 L604.6,431.6 L605.0,432.0 L605.4,431.9 L605.8,431.4 L606.2,430.8 L606.6,430.3 L607.0,430.0 L607.4,430.0 L607.8,430.3 L608.2,430.6 L608.6,430.9 L609.0,431.0 L609.4,430.8 L609.8,430.4 L610.2,430.0 L610.6,429.6 L611.0,429.5 L611.4,429.6 L611.8,430.0 L612.2,430.4 L612.6,430.8 L613.0,431.0 L613.4,430.9 L613.8,430.7 L614.2,430.3 L614.6,430.1 L615.0,430.0 L615.4,430.2 L615.8,430.6 L616.2,431.0 L616.6,431.4 L617.0,431.5 L617.4,431.3 L617.8,430.9 L618.2,430.5 L618.6,430.1 L619.0,430.0 L619.4,430.2 L619.8,430.7 L620.2,431.2 L620.6,431.7 L621.0,432.0 L621.4,432.0 L621.8,431.7 L622.2,431.4 L622.6,431.1 L623.0,431.0 L623.4,431.2 L623.8,431.6 L624.2,432.1 L624.6,432.4 L625.0,432.5 L625.4,432.2 L625.8,431.6 L626.2,430.9 L626.6,430.3 L627.0,430.0 L627.4,430.0 L627.8,430.3 L628.2,430.6 L628.6,430.9 L629.0,431.0 L629.4,430.7 L629.8,430.2 L630.2,429.6 L630.6,429.1 L631.0,429.0 L631.4,429.4 L631.8,430.2 L632.2,431.0 L632.6,431.7 L633.0,432.0 L633.4,431.6 L633.8,430.7 L634.2,429.7 L634.6,428.9 L635.0,428.5 L635.4,428.8 L635.8,429.6 L636.2,430.6 L636.6,431.5 L637.0,432.0 L637.4,432.0 L637.8,431.6 L638.2,431.1 L638.6,430.6 L639.0,430.5 L639.4,430.7 L639.8,431.2 L640.2,431.8 L640.6,432.4 L641.0,433.0 L641.3,433.7 L641.6,434.5 L641.9,435.2 L642.2,435.8 L642.5,436.0 L642.8,435.8 L643.1,435.3 L643.4,434.6 L643.7,433.8 L644.0,433.0 L644.3,432.0 L644.6,430.7 L644.9,429.4 L645.2,428.4 L645.5,428.0 L645.8,428.5 L646.1,429.7 L646.4,431.1 L646.7,432.4 L647.0,433.0 L647.3,433.2 L647.6,433.2 L647.9,432.8 L648.2,431.8 L648.5,430.0 L648.8,427.4 L649.1,424.3 L649.3,420.4 L649.6,415.7 L650.0,410.0 L650.4,401.7 L650.9,390.8 L651.4,379.8 L651.9,371.4 L652.4,368.0 L652.9,371.4 L653.3,379.9 L653.8,390.9 L654.2,401.8 L654.6,410.0 L654.9,415.4 L655.2,419.8 L655.5,423.3 L655.7,426.0 L656.0,428.0 L656.3,429.1 L656.5,429.3 L656.7,428.7 L657.0,427.9 L657.2,427.0 L657.5,425.7 L657.7,423.9 L658.0,421.9 L658.2,420.5 L658.5,420.0 L658.8,421.0 L659.1,423.1 L659.4,425.6 L659.7,427.8 L660.0,429.0 L660.3,428.7 L660.6,427.5 L660.9,425.9 L661.2,424.5 L661.5,424.0 L661.8,424.6 L662.1,426.0 L662.4,427.7 L662.7,429.2 L663.0,430.0 L663.3,429.9 L663.6,429.1 L663.9,428.1 L664.2,427.3 L664.5,427.0 L664.7,427.4 L665.0,428.3 L665.2,429.4 L665.4,430.3 L665.5,431.0" fill="none" stroke="#d03c44" stroke-width="0.9" /></svg></body></html>
